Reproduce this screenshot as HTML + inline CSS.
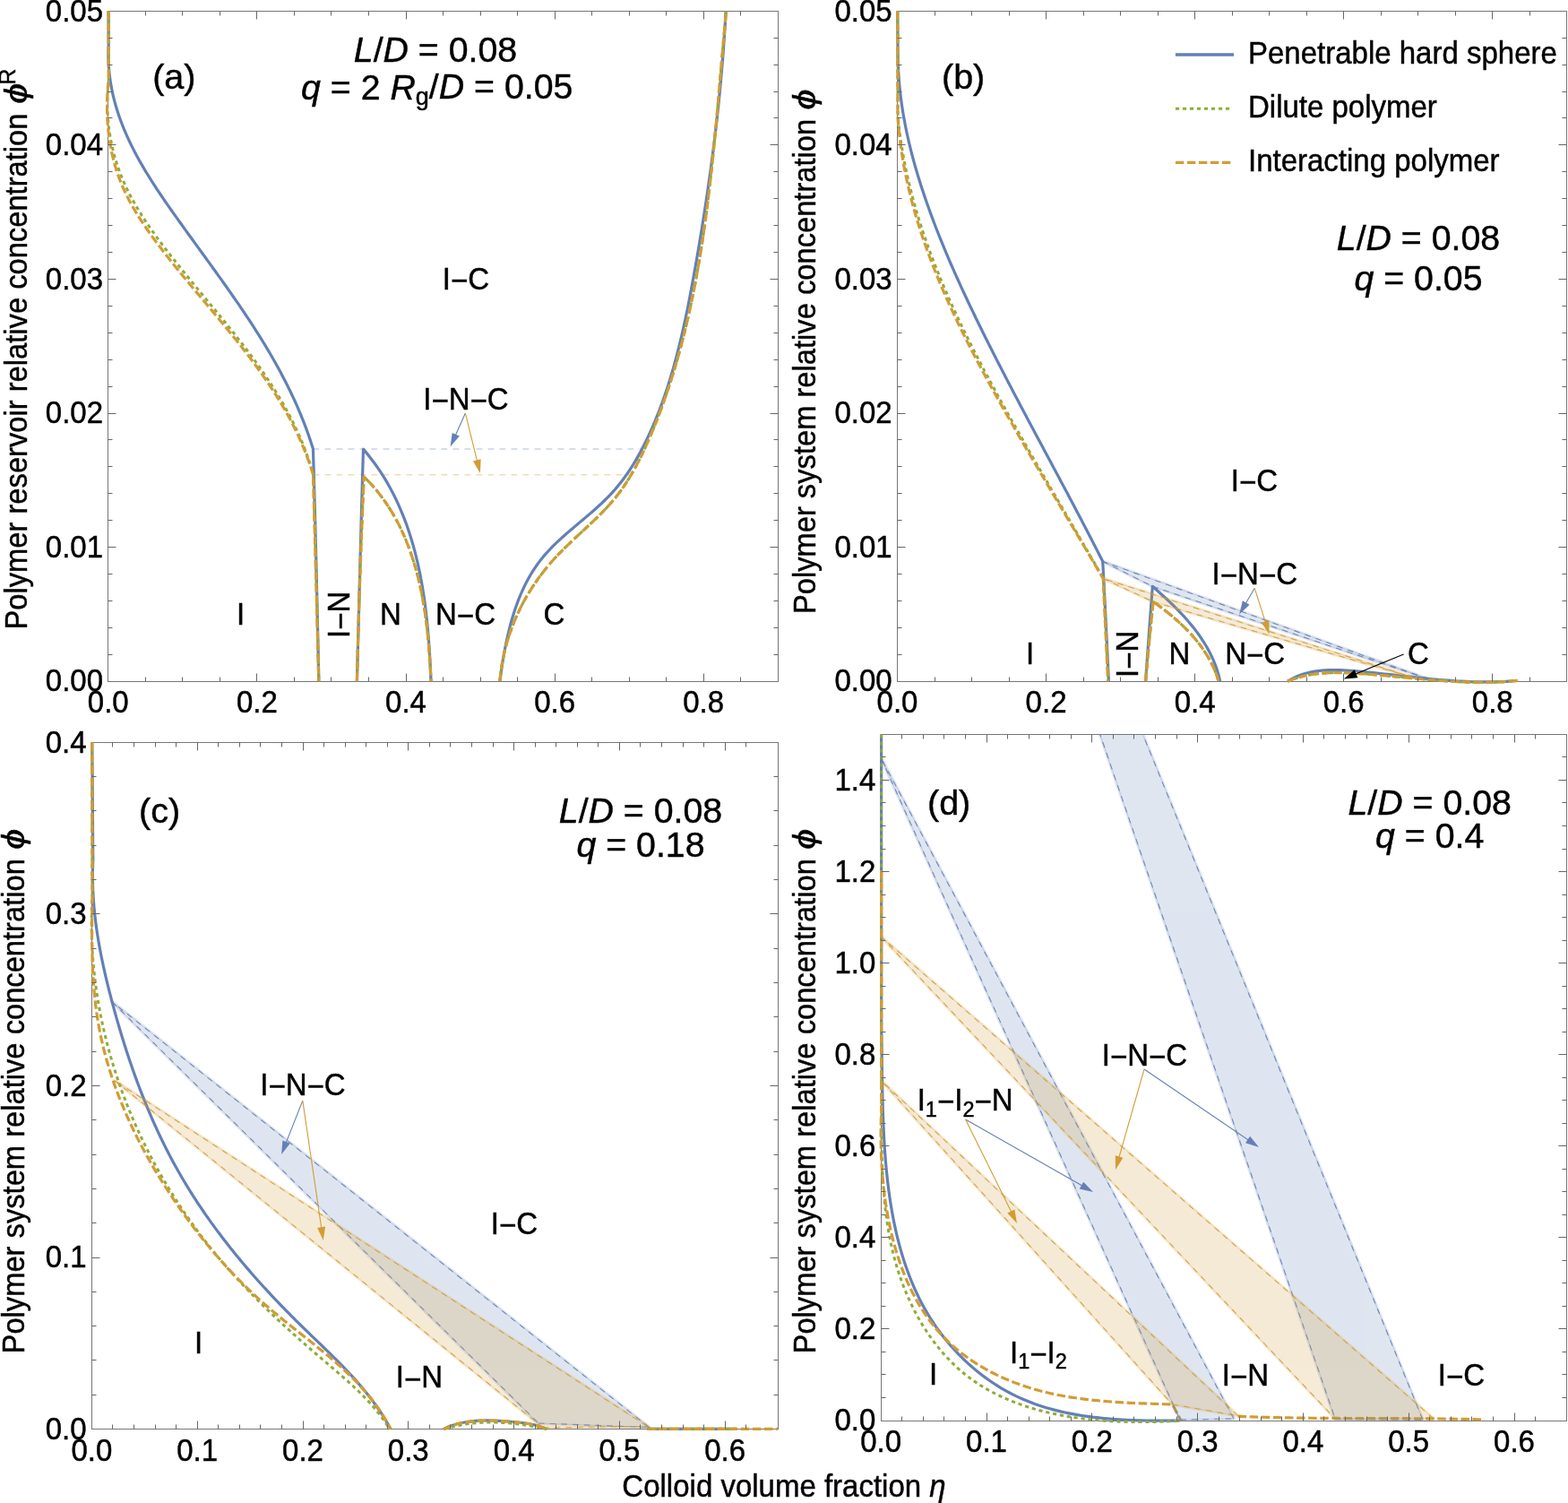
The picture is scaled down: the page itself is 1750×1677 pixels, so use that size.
<!DOCTYPE html><html><head><meta charset="utf-8"><title>Phase diagrams</title>
<style>html,body{margin:0;padding:0;background:#fff;}svg{display:block;}text{font-family:'Liberation Sans', Arial, Helvetica, sans-serif;fill:#000;stroke:#000;stroke-width:0.45px;}</style></head><body>
<svg width="1750" height="1677" viewBox="0 0 1750 1677">
<rect width="1750" height="1677" fill="#fff"/>
<defs>
<clipPath id="ca"><rect x="117.8" y="11.8" width="750.95" height="751.4"/></clipPath>
<clipPath id="fa"><rect x="120.5" y="12.5" width="748" height="748"/></clipPath>
<clipPath id="cb"><rect x="998.5" y="11.8" width="750.77" height="751.4"/></clipPath>
<clipPath id="fb"><rect x="1001.5" y="12.5" width="747" height="748"/></clipPath>
<clipPath id="cc"><rect x="99.4" y="827.8" width="769.2" height="769.8"/></clipPath>
<clipPath id="fc"><rect x="102.5" y="828.5" width="766" height="766"/></clipPath>
<clipPath id="cd"><rect x="980.2" y="818.9" width="769.2" height="769.1"/></clipPath>
<clipPath id="fd"><rect x="983.5" y="819.5" width="765" height="766"/></clipPath>
</defs>
<rect x="120.5" y="12.5" width="748" height="748" fill="none" stroke="#777777" stroke-width="1"/>
<text x="120.8" y="795.2" font-size="33" text-anchor="middle" transform="matrix(1,0,0,1.05,0,-39.76)">0.0</text>
<text x="286.9" y="795.2" font-size="33" text-anchor="middle" transform="matrix(1,0,0,1.05,0,-39.76)">0.2</text>
<text x="453" y="795.2" font-size="33" text-anchor="middle" transform="matrix(1,0,0,1.05,0,-39.76)">0.4</text>
<text x="619.1" y="795.2" font-size="33" text-anchor="middle" transform="matrix(1,0,0,1.05,0,-39.76)">0.6</text>
<text x="785.2" y="795.2" font-size="33" text-anchor="middle" transform="matrix(1,0,0,1.05,0,-39.76)">0.8</text>
<text x="115" y="771.5" font-size="33" text-anchor="end" transform="matrix(1,0,0,1.05,0,-38.58)">0.00</text>
<text x="115" y="621.92" font-size="33" text-anchor="end" transform="matrix(1,0,0,1.05,0,-31.1)">0.01</text>
<text x="115" y="472.34" font-size="33" text-anchor="end" transform="matrix(1,0,0,1.05,0,-23.62)">0.02</text>
<text x="115" y="322.76" font-size="33" text-anchor="end" transform="matrix(1,0,0,1.05,0,-16.14)">0.03</text>
<text x="115" y="173.18" font-size="33" text-anchor="end" transform="matrix(1,0,0,1.05,0,-8.66)">0.04</text>
<text x="115" y="23.6" font-size="33" text-anchor="end" transform="matrix(1,0,0,1.05,0,-1.18)">0.05</text>
<line x1="349.5" y1="501" x2="716" y2="501" stroke="#6380b6" stroke-opacity="0.35" stroke-width="1.6" stroke-dasharray="6.8 6.2"/>
<line x1="349.5" y1="529.8" x2="705" y2="529.8" stroke="#d29c34" stroke-opacity="0.35" stroke-width="1.6" stroke-dasharray="6.8 6.2"/>
<path d="M121.1,12.5 L121.2,50 L121.02,54.25 L120.92,58.46 L120.92,62.65 L121.01,66.8 L121.18,70.92 L121.43,75.02 L121.77,79.09 L122.18,83.12 L122.68,87.13 L123.25,91.12 L123.9,95.07 L124.63,99 L125.42,102.91 L126.29,106.79 L127.23,110.64 L128.23,114.47 L129.3,118.28 L130.44,122.07 L131.64,125.83 L132.9,129.57 L134.22,133.29 L135.59,136.99 L137.03,140.66 L138.51,144.32 L140.05,147.96 L141.65,151.58 L143.29,155.18 L144.98,158.77 L146.71,162.33 L148.5,165.88 L150.32,169.42 L152.18,172.94 L154.09,176.44 L156.03,179.93 L158.01,183.41 L160.03,186.87 L162.08,190.32 L164.16,193.75 L166.27,197.18 L168.41,200.59 L170.57,204 L172.76,207.39 L174.98,210.77 L177.21,214.14 L179.47,217.51 L181.74,220.87 L184.04,224.22 L186.34,227.56 L188.66,230.9 L191,234.23 L193.34,237.55 L195.69,240.87 L198.05,244.18 L200.42,247.5 L202.79,250.8 L205.16,254.11 L207.54,257.41 L209.92,260.71 L212.3,264.01 L214.69,267.3 L217.08,270.59 L219.47,273.89 L221.85,277.18 L224.24,280.47 L226.63,283.76 L229.02,287.05 L231.4,290.34 L233.79,293.63 L236.17,296.92 L238.54,300.22 L240.91,303.51 L243.28,306.81 L245.64,310.11 L248,313.41 L250.35,316.71 L252.69,320.02 L255.03,323.34 L257.35,326.65 L259.67,329.97 L261.98,333.3 L264.28,336.63 L266.57,339.96 L268.84,343.3 L271.11,346.65 L273.36,350 L275.6,353.36 L277.83,356.73 L280.04,360.1 L282.24,363.48 L284.42,366.87 L286.59,370.27 L288.74,373.68 L290.88,377.09 L293,380.51 L295.1,383.95 L297.18,387.39 L299.24,390.85 L301.28,394.31 L303.31,397.78 L305.31,401.27 L307.29,404.77 L309.25,408.28 L311.18,411.8 L313.1,415.33 L314.98,418.88 L316.85,422.44 L318.69,426.01 L320.5,429.6 L322.29,433.2 L324.06,436.81 L325.79,440.44 L327.5,444.09 L329.18,447.75 L330.83,451.43 L332.45,455.12 L334.04,458.83 L335.6,462.55 L337.13,466.3 L338.63,470.06 L340.09,473.83 L341.53,477.63 L342.92,481.44 L344.29,485.28 L345.62,489.13 L346.92,493 L348.18,496.89 L349.4,500.8 L349.53,504.92 L349.66,509.03 L349.78,513.15 L349.91,517.27 L350.03,521.38 L350.16,525.5 L350.28,529.62 L350.4,533.73 L350.52,537.85 L350.64,541.97 L350.75,546.09 L350.87,550.2 L350.98,554.32 L351.1,558.44 L351.21,562.55 L351.32,566.67 L351.44,570.79 L351.55,574.91 L351.65,579.02 L351.76,583.14 L351.87,587.26 L351.98,591.37 L352.08,595.49 L352.19,599.61 L352.29,603.73 L352.4,607.84 L352.5,611.96 L352.6,616.08 L352.7,620.2 L352.8,624.31 L352.9,628.43 L353,632.55 L353.1,636.67 L353.19,640.78 L353.29,644.9 L353.39,649.02 L353.48,653.14 L353.58,657.26 L353.67,661.37 L353.76,665.49 L353.86,669.61 L353.95,673.73 L354.04,677.84 L354.13,681.96 L354.23,686.08 L354.32,690.2 L354.41,694.32 L354.5,698.43 L354.58,702.55 L354.67,706.67 L354.76,710.79 L354.85,714.9 L354.94,719.02 L355.03,723.14 L355.11,727.26 L355.2,731.38 L355.29,735.49 L355.37,739.61 L355.46,743.73 L355.54,747.85 L355.63,751.96 L355.71,756.08 L355.8,760.2" fill="none" stroke="#6380b6" stroke-width="3.2" stroke-linejoin="round" clip-path="url(#ca)"/>
<path d="M398.4,760.2 L398.52,756.09 L398.63,751.98 L398.75,747.87 L398.86,743.76 L398.97,739.64 L399.09,735.53 L399.2,731.42 L399.31,727.31 L399.42,723.2 L399.53,719.09 L399.64,714.98 L399.75,710.87 L399.86,706.76 L399.97,702.64 L400.08,698.53 L400.19,694.42 L400.3,690.31 L400.41,686.2 L400.51,682.09 L400.62,677.98 L400.73,673.87 L400.84,669.75 L400.94,665.64 L401.05,661.53 L401.16,657.42 L401.26,653.31 L401.37,649.2 L401.48,645.09 L401.59,640.98 L401.69,636.86 L401.8,632.75 L401.91,628.64 L402.02,624.53 L402.12,620.42 L402.23,616.31 L402.34,612.2 L402.45,608.09 L402.56,603.97 L402.67,599.86 L402.78,595.75 L402.89,591.64 L403,587.53 L403.11,583.42 L403.22,579.31 L403.34,575.2 L403.45,571.09 L403.56,566.97 L403.68,562.86 L403.79,558.75 L403.91,554.64 L404.03,550.53 L404.15,546.42 L404.26,542.31 L404.38,538.2 L404.5,534.09 L404.62,529.98 L404.75,525.86 L404.87,521.75 L404.99,517.64 L405.12,513.53 L405.24,509.42 L405.37,505.31 L405.5,501.2 L408.22,504.4 L410.88,507.63 L413.47,510.9 L415.99,514.2 L418.45,517.53 L420.85,520.9 L423.18,524.29 L425.45,527.72 L427.66,531.18 L429.8,534.67 L431.89,538.19 L433.92,541.74 L435.89,545.31 L437.81,548.92 L439.67,552.54 L441.47,556.2 L443.22,559.88 L444.92,563.58 L446.56,567.31 L448.15,571.05 L449.7,574.83 L451.19,578.62 L452.63,582.43 L454.03,586.26 L455.37,590.12 L456.67,593.99 L457.93,597.88 L459.14,601.78 L460.31,605.71 L461.43,609.65 L462.52,613.6 L463.56,617.57 L464.56,621.55 L465.52,625.55 L466.45,629.56 L467.33,633.58 L468.18,637.61 L469,641.65 L469.78,645.7 L470.52,649.76 L471.23,653.83 L471.91,657.9 L472.56,661.98 L473.18,666.07 L473.77,670.16 L474.33,674.26 L474.86,678.37 L475.36,682.47 L475.84,686.58 L476.29,690.69 L476.72,694.8 L477.13,698.92 L477.51,703.03 L477.87,707.14 L478.21,711.25 L478.54,715.36 L478.84,719.46 L479.12,723.56 L479.39,727.66 L479.64,731.75 L479.87,735.84 L480.09,739.92 L480.3,743.99 L480.49,748.06 L480.67,752.11 L480.84,756.16 L481,760.2" fill="none" stroke="#6380b6" stroke-width="3.2" stroke-linejoin="round" clip-path="url(#ca)"/>
<path d="M557.9,760.2 L558.42,756.25 L558.96,752.29 L559.52,748.32 L560.11,744.33 L560.73,740.33 L561.38,736.33 L562.05,732.32 L562.76,728.31 L563.51,724.29 L564.29,720.28 L565.11,716.28 L565.97,712.28 L566.87,708.29 L567.81,704.32 L568.81,700.35 L569.85,696.41 L570.94,692.48 L572.08,688.57 L573.27,684.68 L574.53,680.83 L575.84,677 L577.2,673.19 L578.63,669.43 L580.13,665.69 L581.69,662 L583.31,658.34 L585,654.73 L586.77,651.16 L588.61,647.63 L590.52,644.16 L592.51,640.74 L594.58,637.37 L596.72,634.05 L598.95,630.8 L601.27,627.6 L603.67,624.47 L606.16,621.4 L608.72,618.4 L611.37,615.45 L614.09,612.55 L616.87,609.7 L619.71,606.9 L622.61,604.13 L625.55,601.4 L628.54,598.7 L631.56,596.02 L634.61,593.36 L637.69,590.73 L640.78,588.1 L643.89,585.48 L647.01,582.87 L650.12,580.26 L653.23,577.64 L656.33,575.01 L659.42,572.36 L662.48,569.7 L665.52,567.01 L668.52,564.3 L671.48,561.55 L674.4,558.77 L677.27,555.95 L680.07,553.08 L682.82,550.16 L685.5,547.19 L688.11,544.16 L690.65,541.09 L693.13,537.96 L695.54,534.78 L697.89,531.56 L700.18,528.3 L702.42,524.99 L704.6,521.64 L706.72,518.26 L708.79,514.84 L710.81,511.39 L712.78,507.91 L714.71,504.4 L716.59,500.86 L718.43,497.3 L720.23,493.72 L721.98,490.11 L723.7,486.49 L725.39,482.85 L727.03,479.2 L728.65,475.53 L730.23,471.84 L731.77,468.14 L733.28,464.42 L734.77,460.69 L736.21,456.95 L737.63,453.19 L739.02,449.42 L740.38,445.64 L741.71,441.84 L743.01,438.03 L744.28,434.21 L745.53,430.38 L746.75,426.54 L747.94,422.69 L749.11,418.83 L750.25,414.95 L751.37,411.07 L752.47,407.18 L753.54,403.28 L754.6,399.38 L755.63,395.46 L756.64,391.54 L757.63,387.61 L758.6,383.67 L759.55,379.73 L760.48,375.78 L761.4,371.83 L762.3,367.87 L763.18,363.91 L764.05,359.94 L764.9,355.97 L765.74,351.99 L766.56,348.01 L767.38,344.03 L768.17,340.05 L768.96,336.06 L769.74,332.07 L770.5,328.09 L771.26,324.1 L772,320.1 L772.74,316.11 L773.47,312.12 L774.19,308.13 L774.91,304.14 L775.62,300.15 L776.32,296.17 L777.02,292.18 L777.72,288.2 L778.4,284.22 L779.09,280.24 L779.76,276.26 L780.43,272.28 L781.1,268.31 L781.76,264.33 L782.42,260.36 L783.06,256.38 L783.71,252.41 L784.34,248.44 L784.98,244.47 L785.6,240.5 L786.22,236.53 L786.83,232.56 L787.44,228.59 L788.04,224.62 L788.64,220.65 L789.23,216.68 L789.81,212.71 L790.39,208.75 L790.96,204.78 L791.52,200.81 L792.08,196.84 L792.63,192.87 L793.17,188.9 L793.71,184.93 L794.24,180.96 L794.77,176.99 L795.29,173.01 L795.8,169.04 L796.3,165.06 L796.8,161.09 L797.29,157.11 L797.78,153.13 L798.25,149.15 L798.73,145.17 L799.19,141.19 L799.65,137.21 L800.1,133.22 L800.54,129.24 L800.97,125.25 L801.4,121.26 L801.82,117.26 L802.24,113.27 L802.64,109.27 L803.04,105.27 L803.44,101.27 L803.82,97.27 L804.2,93.26 L804.57,89.25 L804.93,85.24 L805.28,81.23 L805.63,77.21 L805.97,73.19 L806.3,69.17 L806.62,65.14 L806.94,61.12 L807.25,57.08 L807.55,53.05 L807.84,49.01 L808.12,44.97 L808.4,40.92 L808.66,36.87 L808.92,32.82 L809.18,28.77 L809.42,24.7 L809.65,20.64 L809.88,16.57 L810.1,12.5" fill="none" stroke="#6380b6" stroke-width="3.2" stroke-linejoin="round" clip-path="url(#ca)"/>
<path d="M121.1,12.5 L121.4,89.4 L120.94,93.6 L120.55,97.79 L120.25,101.97 L120.03,106.13 L119.89,110.29 L119.83,114.43 L119.84,118.56 L119.94,122.67 L120.11,126.77 L120.36,130.85 L120.68,134.92 L121.08,138.97 L121.55,143 L122.1,147.02 L122.72,151.02 L123.42,154.99 L124.19,158.95 L125.03,162.88 L125.94,166.8 L126.92,170.69 L127.97,174.56 L129.09,178.41 L130.28,182.23 L131.54,186.03 L132.87,189.8 L134.27,193.55 L135.73,197.27 L137.26,200.96 L138.85,204.62 L140.51,208.26 L142.23,211.87 L144.01,215.45 L145.85,219.01 L147.75,222.54 L149.7,226.04 L151.7,229.53 L153.75,232.98 L155.84,236.42 L157.98,239.84 L160.16,243.24 L162.38,246.61 L164.63,249.97 L166.92,253.32 L169.24,256.64 L171.59,259.95 L173.96,263.24 L176.37,266.53 L178.79,269.79 L181.23,273.05 L183.69,276.29 L186.16,279.53 L188.65,282.75 L191.15,285.96 L193.67,289.17 L196.19,292.36 L198.73,295.55 L201.27,298.73 L203.83,301.91 L206.39,305.08 L208.96,308.24 L211.54,311.4 L214.12,314.55 L216.71,317.7 L219.3,320.85 L221.89,324 L224.49,327.14 L227.09,330.28 L229.68,333.42 L232.28,336.56 L234.87,339.7 L237.47,342.84 L240.06,345.98 L242.64,349.12 L245.22,352.27 L247.79,355.42 L250.36,358.57 L252.92,361.73 L255.47,364.89 L258.01,368.05 L260.54,371.23 L263.06,374.4 L265.57,377.59 L268.07,380.78 L270.55,383.98 L273.02,387.19 L275.47,390.41 L277.9,393.64 L280.32,396.88 L282.72,400.13 L285.1,403.39 L287.46,406.67 L289.8,409.95 L292.12,413.25 L294.41,416.57 L296.68,419.89 L298.93,423.24 L301.15,426.6 L303.35,429.97 L305.52,433.36 L307.66,436.77 L309.77,440.19 L311.86,443.64 L313.91,447.1 L315.93,450.58 L317.92,454.09 L319.88,457.61 L321.8,461.15 L323.69,464.72 L325.54,468.31 L327.35,471.92 L329.13,475.55 L330.87,479.21 L332.57,482.89 L334.23,486.6 L335.85,490.33 L337.43,494.09 L338.96,497.88 L340.46,501.69 L341.9,505.53 L343.3,509.4 L344.66,513.3 L345.97,517.23 L347.23,521.19 L348.44,525.18 L349.6,529.2 L349.72,533.32 L349.85,537.45 L349.97,541.57 L350.09,545.7 L350.22,549.82 L350.34,553.95 L350.46,558.07 L350.58,562.2 L350.69,566.32 L350.81,570.45 L350.93,574.57 L351.05,578.7 L351.16,582.82 L351.28,586.95 L351.39,591.07 L351.51,595.2 L351.62,599.32 L351.74,603.45 L351.85,607.57 L351.96,611.7 L352.08,615.82 L352.19,619.95 L352.3,624.07 L352.41,628.2 L352.52,632.32 L352.64,636.45 L352.75,640.57 L352.86,644.7 L352.97,648.82 L353.08,652.95 L353.19,657.07 L353.3,661.2 L353.41,665.32 L353.52,669.45 L353.63,673.57 L353.74,677.7 L353.85,681.82 L353.96,685.95 L354.07,690.07 L354.18,694.2 L354.3,698.32 L354.41,702.45 L354.52,706.57 L354.63,710.7 L354.74,714.83 L354.85,718.95 L354.97,723.08 L355.08,727.2 L355.19,731.33 L355.31,735.45 L355.42,739.58 L355.54,743.7 L355.65,747.83 L355.77,751.95 L355.88,756.08 L356,760.2" fill="none" stroke="#8fac3a" stroke-width="3" stroke-dasharray="4.2 3.8" stroke-linejoin="round" clip-path="url(#ca)"/>
<path d="M398.4,760.2 L398.5,756.12 L398.59,752.04 L398.69,747.97 L398.79,743.89 L398.89,739.81 L399,735.73 L399.1,731.65 L399.21,727.58 L399.32,723.5 L399.43,719.42 L399.54,715.34 L399.66,711.27 L399.77,707.19 L399.89,703.11 L400.01,699.03 L400.13,694.95 L400.25,690.88 L400.38,686.8 L400.5,682.72 L400.63,678.65 L400.76,674.57 L400.89,670.49 L401.02,666.41 L401.15,662.34 L401.29,658.26 L401.42,654.18 L401.56,650.11 L401.7,646.03 L401.84,641.95 L401.98,637.88 L402.13,633.8 L402.27,629.72 L402.42,625.65 L402.57,621.57 L402.72,617.49 L402.87,613.42 L403.02,609.34 L403.18,605.26 L403.33,601.19 L403.49,597.11 L403.65,593.04 L403.81,588.96 L403.97,584.88 L404.14,580.81 L404.3,576.73 L404.47,572.66 L404.63,568.58 L404.8,564.5 L404.97,560.43 L405.14,556.35 L405.32,552.28 L405.49,548.2 L405.67,544.13 L405.84,540.05 L406.02,535.98 L406.2,531.9 L409.18,534.88 L412.09,537.9 L414.91,540.98 L417.65,544.1 L420.32,547.26 L422.9,550.47 L425.42,553.73 L427.85,557.02 L430.22,560.36 L432.51,563.74 L434.73,567.16 L436.88,570.62 L438.96,574.11 L440.98,577.64 L442.92,581.2 L444.81,584.8 L446.63,588.43 L448.38,592.1 L450.08,595.79 L451.71,599.51 L453.29,603.26 L454.8,607.04 L456.26,610.85 L457.67,614.68 L459.01,618.53 L460.31,622.41 L461.55,626.31 L462.75,630.23 L463.89,634.17 L464.98,638.13 L466.03,642.1 L467.03,646.1 L467.99,650.1 L468.9,654.13 L469.77,658.16 L470.59,662.21 L471.38,666.27 L472.12,670.34 L472.83,674.42 L473.51,678.5 L474.14,682.6 L474.74,686.69 L475.31,690.8 L475.85,694.9 L476.35,699.01 L476.83,703.12 L477.27,707.23 L477.69,711.34 L478.08,715.45 L478.45,719.55 L478.8,723.66 L479.12,727.75 L479.41,731.84 L479.69,735.92 L479.95,740 L480.19,744.06 L480.42,748.11 L480.63,752.16 L480.82,756.18 L481,760.2" fill="none" stroke="#8fac3a" stroke-width="3" stroke-dasharray="4.2 3.8" stroke-linejoin="round" clip-path="url(#ca)"/>
<path d="M557.9,760.2 L558.27,756.1 L558.71,752.02 L559.22,747.96 L559.81,743.93 L560.47,739.92 L561.21,735.93 L562.01,731.96 L562.89,728.02 L563.84,724.1 L564.86,720.21 L565.95,716.34 L567.1,712.5 L568.32,708.69 L569.61,704.9 L570.97,701.14 L572.39,697.4 L573.88,693.7 L575.43,690.02 L577.04,686.38 L578.72,682.76 L580.45,679.17 L582.25,675.62 L584.11,672.09 L586.03,668.6 L588.01,665.14 L590.05,661.71 L592.15,658.32 L594.3,654.96 L596.51,651.63 L598.77,648.34 L601.09,645.08 L603.46,641.86 L605.89,638.67 L608.37,635.52 L610.9,632.41 L613.49,629.34 L616.12,626.3 L618.81,623.3 L621.54,620.34 L624.32,617.42 L627.15,614.54 L630.01,611.68 L632.9,608.85 L635.82,606.05 L638.77,603.26 L641.73,600.49 L644.7,597.73 L647.68,594.98 L650.66,592.22 L653.64,589.47 L656.6,586.71 L659.56,583.95 L662.49,581.17 L665.4,578.37 L668.28,575.55 L671.13,572.71 L673.93,569.83 L676.69,566.93 L679.4,563.98 L682.06,561 L684.65,557.97 L687.18,554.89 L689.64,551.76 L692.03,548.58 L694.36,545.35 L696.62,542.08 L698.83,538.76 L700.97,535.4 L703.07,532.01 L705.1,528.58 L707.09,525.11 L709.03,521.62 L710.93,518.09 L712.78,514.54 L714.59,510.96 L716.36,507.36 L718.09,503.73 L719.79,500.09 L721.46,496.44 L723.09,492.77 L724.7,489.09 L726.29,485.39 L727.85,481.69 L729.38,477.99 L730.9,474.27 L732.39,470.55 L733.86,466.82 L735.3,463.08 L736.73,459.33 L738.13,455.58 L739.51,451.82 L740.87,448.05 L742.21,444.27 L743.52,440.49 L744.82,436.7 L746.09,432.91 L747.34,429.1 L748.58,425.29 L749.79,421.48 L750.99,417.66 L752.16,413.83 L753.32,409.99 L754.45,406.15 L755.57,402.31 L756.67,398.45 L757.75,394.6 L758.81,390.73 L759.85,386.86 L760.88,382.99 L761.89,379.11 L762.88,375.22 L763.85,371.33 L764.81,367.43 L765.75,363.53 L766.68,359.62 L767.59,355.71 L768.48,351.8 L769.36,347.88 L770.22,343.95 L771.07,340.02 L771.9,336.09 L772.71,332.15 L773.52,328.21 L774.3,324.27 L775.08,320.32 L775.84,316.36 L776.59,312.41 L777.32,308.45 L778.04,304.48 L778.75,300.51 L779.44,296.54 L780.12,292.57 L780.79,288.59 L781.45,284.61 L782.1,280.63 L782.73,276.64 L783.35,272.66 L783.96,268.67 L784.57,264.67 L785.16,260.68 L785.74,256.68 L786.31,252.68 L786.87,248.68 L787.42,244.67 L787.96,240.67 L788.49,236.66 L789.01,232.65 L789.53,228.64 L790.03,224.62 L790.53,220.61 L791.02,216.6 L791.5,212.58 L791.97,208.56 L792.43,204.54 L792.89,200.52 L793.34,196.5 L793.79,192.48 L794.23,188.46 L794.66,184.44 L795.08,180.42 L795.5,176.4 L795.92,172.37 L796.33,168.35 L796.73,164.33 L797.13,160.31 L797.52,156.28 L797.91,152.26 L798.3,148.24 L798.68,144.22 L799.06,140.2 L799.43,136.18 L799.8,132.16 L800.17,128.15 L800.53,124.13 L800.9,120.11 L801.26,116.1 L801.61,112.09 L801.97,108.07 L802.32,104.07 L802.67,100.06 L803.02,96.05 L803.37,92.05 L803.72,88.04 L804.07,84.04 L804.42,80.04 L804.77,76.05 L805.12,72.05 L805.46,68.06 L805.81,64.07 L806.16,60.09 L806.51,56.11 L806.86,52.13 L807.22,48.15 L807.57,44.17 L807.93,40.2 L808.29,36.23 L808.65,32.27 L809.01,28.31 L809.38,24.35 L809.75,20.4 L810.12,16.45 L810.5,12.5" fill="none" stroke="#8fac3a" stroke-width="3" stroke-dasharray="4.2 3.8" stroke-linejoin="round" clip-path="url(#ca)"/>
<path d="M121.1,12.5 L121.2,89.4 L120.77,93.5 L120.41,97.61 L120.11,101.71 L119.86,105.82 L119.68,109.92 L119.57,114.02 L119.51,118.11 L119.52,122.2 L119.6,126.28 L119.74,130.36 L119.94,134.42 L120.21,138.48 L120.55,142.52 L120.95,146.55 L121.42,150.57 L121.96,154.57 L122.57,158.56 L123.24,162.52 L123.99,166.47 L124.8,170.4 L125.68,174.31 L126.64,178.19 L127.66,182.05 L128.76,185.89 L129.93,189.7 L131.18,193.48 L132.49,197.24 L133.88,200.96 L135.34,204.66 L136.88,208.32 L138.49,211.95 L140.17,215.55 L141.92,219.12 L143.73,222.66 L145.61,226.18 L147.54,229.67 L149.52,233.13 L151.56,236.57 L153.65,239.98 L155.79,243.37 L157.97,246.74 L160.19,250.09 L162.44,253.42 L164.74,256.73 L167.06,260.03 L169.42,263.31 L171.8,266.57 L174.21,269.82 L176.64,273.05 L179.08,276.28 L181.54,279.49 L184.02,282.69 L186.51,285.88 L189.02,289.06 L191.54,292.23 L194.07,295.39 L196.61,298.54 L199.16,301.69 L201.71,304.83 L204.28,307.96 L206.86,311.09 L209.44,314.21 L212.03,317.33 L214.62,320.44 L217.22,323.55 L219.82,326.65 L222.42,329.76 L225.02,332.86 L227.63,335.96 L230.23,339.06 L232.83,342.16 L235.44,345.26 L238.03,348.37 L240.63,351.47 L243.22,354.57 L245.81,357.68 L248.38,360.79 L250.96,363.91 L253.52,367.03 L256.08,370.15 L258.62,373.28 L261.16,376.42 L263.68,379.56 L266.19,382.71 L268.69,385.87 L271.18,389.04 L273.65,392.22 L276.1,395.4 L278.54,398.6 L280.96,401.8 L283.36,405.02 L285.75,408.25 L288.11,411.49 L290.46,414.75 L292.78,418.02 L295.08,421.3 L297.35,424.6 L299.6,427.91 L301.83,431.24 L304.03,434.58 L306.21,437.95 L308.35,441.33 L310.47,444.72 L312.56,448.14 L314.62,451.58 L316.65,455.03 L318.65,458.51 L320.61,462.01 L322.54,465.52 L324.44,469.07 L326.3,472.63 L328.12,476.22 L329.91,479.83 L331.66,483.46 L333.37,487.12 L335.04,490.81 L336.67,494.52 L338.26,498.26 L339.81,502.03 L341.32,505.82 L342.78,509.64 L344.2,513.49 L345.57,517.37 L346.89,521.29 L348.17,525.23 L349.4,529.2 L349.52,533.32 L349.65,537.45 L349.77,541.57 L349.89,545.7 L350.02,549.82 L350.14,553.95 L350.26,558.07 L350.38,562.2 L350.49,566.32 L350.61,570.45 L350.73,574.57 L350.85,578.7 L350.96,582.82 L351.08,586.95 L351.19,591.07 L351.31,595.2 L351.42,599.32 L351.54,603.45 L351.65,607.57 L351.76,611.7 L351.88,615.82 L351.99,619.95 L352.1,624.07 L352.21,628.2 L352.32,632.32 L352.44,636.45 L352.55,640.57 L352.66,644.7 L352.77,648.82 L352.88,652.95 L352.99,657.07 L353.1,661.2 L353.21,665.32 L353.32,669.45 L353.43,673.57 L353.54,677.7 L353.65,681.82 L353.76,685.95 L353.87,690.07 L353.98,694.2 L354.1,698.32 L354.21,702.45 L354.32,706.57 L354.43,710.7 L354.54,714.83 L354.65,718.95 L354.77,723.08 L354.88,727.2 L354.99,731.33 L355.11,735.45 L355.22,739.58 L355.34,743.7 L355.45,747.83 L355.57,751.95 L355.68,756.08 L355.8,760.2" fill="none" stroke="#d29c34" stroke-width="3.2" stroke-dasharray="9.5 3.6" stroke-linejoin="round" clip-path="url(#ca)"/>
<path d="M398.4,760.2 L398.5,756.12 L398.59,752.04 L398.69,747.97 L398.79,743.89 L398.89,739.81 L399,735.73 L399.1,731.65 L399.21,727.58 L399.32,723.5 L399.43,719.42 L399.54,715.34 L399.66,711.27 L399.77,707.19 L399.89,703.11 L400.01,699.03 L400.13,694.95 L400.25,690.88 L400.38,686.8 L400.5,682.72 L400.63,678.65 L400.76,674.57 L400.89,670.49 L401.02,666.41 L401.15,662.34 L401.29,658.26 L401.42,654.18 L401.56,650.11 L401.7,646.03 L401.84,641.95 L401.98,637.88 L402.13,633.8 L402.27,629.72 L402.42,625.65 L402.57,621.57 L402.72,617.49 L402.87,613.42 L403.02,609.34 L403.18,605.26 L403.33,601.19 L403.49,597.11 L403.65,593.04 L403.81,588.96 L403.97,584.88 L404.14,580.81 L404.3,576.73 L404.47,572.66 L404.63,568.58 L404.8,564.5 L404.97,560.43 L405.14,556.35 L405.32,552.28 L405.49,548.2 L405.67,544.13 L405.84,540.05 L406.02,535.98 L406.2,531.9 L409.18,534.88 L412.09,537.9 L414.91,540.98 L417.65,544.1 L420.32,547.26 L422.9,550.47 L425.42,553.73 L427.85,557.02 L430.22,560.36 L432.51,563.74 L434.73,567.16 L436.88,570.62 L438.96,574.11 L440.98,577.64 L442.92,581.2 L444.81,584.8 L446.63,588.43 L448.38,592.1 L450.08,595.79 L451.71,599.51 L453.29,603.26 L454.8,607.04 L456.26,610.85 L457.67,614.68 L459.01,618.53 L460.31,622.41 L461.55,626.31 L462.75,630.23 L463.89,634.17 L464.98,638.13 L466.03,642.1 L467.03,646.1 L467.99,650.1 L468.9,654.13 L469.77,658.16 L470.59,662.21 L471.38,666.27 L472.12,670.34 L472.83,674.42 L473.51,678.5 L474.14,682.6 L474.74,686.69 L475.31,690.8 L475.85,694.9 L476.35,699.01 L476.83,703.12 L477.27,707.23 L477.69,711.34 L478.08,715.45 L478.45,719.55 L478.8,723.66 L479.12,727.75 L479.41,731.84 L479.69,735.92 L479.95,740 L480.19,744.06 L480.42,748.11 L480.63,752.16 L480.82,756.18 L481,760.2" fill="none" stroke="#d29c34" stroke-width="3.2" stroke-dasharray="9.5 3.6" stroke-linejoin="round" clip-path="url(#ca)"/>
<path d="M557.9,760.2 L558.27,756.1 L558.71,752.02 L559.22,747.96 L559.81,743.93 L560.47,739.92 L561.21,735.93 L562.01,731.96 L562.89,728.02 L563.84,724.1 L564.86,720.21 L565.95,716.34 L567.1,712.5 L568.32,708.69 L569.61,704.9 L570.97,701.14 L572.39,697.4 L573.88,693.7 L575.43,690.02 L577.04,686.38 L578.72,682.76 L580.45,679.17 L582.25,675.62 L584.11,672.09 L586.03,668.6 L588.01,665.14 L590.05,661.71 L592.15,658.32 L594.3,654.96 L596.51,651.63 L598.77,648.34 L601.09,645.08 L603.46,641.86 L605.89,638.67 L608.37,635.52 L610.9,632.41 L613.49,629.34 L616.12,626.3 L618.81,623.3 L621.54,620.34 L624.32,617.42 L627.15,614.54 L630.01,611.68 L632.9,608.85 L635.82,606.05 L638.77,603.26 L641.73,600.49 L644.7,597.73 L647.68,594.98 L650.66,592.22 L653.64,589.47 L656.6,586.71 L659.56,583.95 L662.49,581.17 L665.4,578.37 L668.28,575.55 L671.13,572.71 L673.93,569.83 L676.69,566.93 L679.4,563.98 L682.06,561 L684.65,557.97 L687.18,554.89 L689.64,551.76 L692.03,548.58 L694.36,545.35 L696.62,542.08 L698.83,538.76 L700.97,535.4 L703.07,532.01 L705.1,528.58 L707.09,525.11 L709.03,521.62 L710.93,518.09 L712.78,514.54 L714.59,510.96 L716.36,507.36 L718.09,503.73 L719.79,500.09 L721.46,496.44 L723.09,492.77 L724.7,489.09 L726.29,485.39 L727.85,481.69 L729.38,477.99 L730.9,474.27 L732.39,470.55 L733.86,466.82 L735.3,463.08 L736.73,459.33 L738.13,455.58 L739.51,451.82 L740.87,448.05 L742.21,444.27 L743.52,440.49 L744.82,436.7 L746.09,432.91 L747.34,429.1 L748.58,425.29 L749.79,421.48 L750.99,417.66 L752.16,413.83 L753.32,409.99 L754.45,406.15 L755.57,402.31 L756.67,398.45 L757.75,394.6 L758.81,390.73 L759.85,386.86 L760.88,382.99 L761.89,379.11 L762.88,375.22 L763.85,371.33 L764.81,367.43 L765.75,363.53 L766.68,359.62 L767.59,355.71 L768.48,351.8 L769.36,347.88 L770.22,343.95 L771.07,340.02 L771.9,336.09 L772.71,332.15 L773.52,328.21 L774.3,324.27 L775.08,320.32 L775.84,316.36 L776.59,312.41 L777.32,308.45 L778.04,304.48 L778.75,300.51 L779.44,296.54 L780.12,292.57 L780.79,288.59 L781.45,284.61 L782.1,280.63 L782.73,276.64 L783.35,272.66 L783.96,268.67 L784.57,264.67 L785.16,260.68 L785.74,256.68 L786.31,252.68 L786.87,248.68 L787.42,244.67 L787.96,240.67 L788.49,236.66 L789.01,232.65 L789.53,228.64 L790.03,224.62 L790.53,220.61 L791.02,216.6 L791.5,212.58 L791.97,208.56 L792.43,204.54 L792.89,200.52 L793.34,196.5 L793.79,192.48 L794.23,188.46 L794.66,184.44 L795.08,180.42 L795.5,176.4 L795.92,172.37 L796.33,168.35 L796.73,164.33 L797.13,160.31 L797.52,156.28 L797.91,152.26 L798.3,148.24 L798.68,144.22 L799.06,140.2 L799.43,136.18 L799.8,132.16 L800.17,128.15 L800.53,124.13 L800.9,120.11 L801.26,116.1 L801.61,112.09 L801.97,108.07 L802.32,104.07 L802.67,100.06 L803.02,96.05 L803.37,92.05 L803.72,88.04 L804.07,84.04 L804.42,80.04 L804.77,76.05 L805.12,72.05 L805.46,68.06 L805.81,64.07 L806.16,60.09 L806.51,56.11 L806.86,52.13 L807.22,48.15 L807.57,44.17 L807.93,40.2 L808.29,36.23 L808.65,32.27 L809.01,28.31 L809.38,24.35 L809.75,20.4 L810.12,16.45 L810.5,12.5" fill="none" stroke="#d29c34" stroke-width="3.2" stroke-dasharray="9.5 3.6" stroke-linejoin="round" clip-path="url(#ca)"/>
<line x1="519.4" y1="461.1" x2="507.94" y2="486.55" stroke="#6380b6" stroke-width="1.1"/>
<polygon points="502.6,498.4 504.66,482.88 512.86,486.57" fill="#6380b6"/>
<line x1="519.4" y1="461.1" x2="532.79" y2="515.38" stroke="#d29c34" stroke-width="1.1"/>
<polygon points="535.9,528 527.94,514.51 536.68,512.36" fill="#d29c34"/>
<text x="170.2" y="99" font-size="39.5" text-anchor="start" transform="matrix(1,0,0,1.0,0,-0)">(a)</text>
<text x="486" y="69.3" font-size="39.3" text-anchor="middle" transform="matrix(1,0,0,1.0,0,-0)"><tspan font-style="italic">L</tspan>/<tspan font-style="italic">D</tspan> = 0.08</text>
<text x="336" y="110.5" font-size="39.3" text-anchor="start" transform="matrix(1,0,0,1.0,0,-0)"><tspan font-style="italic">q</tspan> = 2 <tspan font-style="italic">R</tspan><tspan font-size="27" dy="6">g</tspan><tspan dy="-6.2">/</tspan><tspan font-style="italic">D</tspan> = 0.05</text>
<text x="520" y="323" font-size="33" text-anchor="middle" transform="matrix(1,0,0,1.05,0,-16.15)">I<tspan baseline-shift="-1.7">&#x2212;</tspan>C</text>
<text x="520" y="457.2" font-size="33" text-anchor="middle" transform="matrix(1,0,0,1.05,0,-22.86)">I<tspan baseline-shift="-1.7">&#x2212;</tspan>N<tspan baseline-shift="-1.7">&#x2212;</tspan>C</text>
<text x="264" y="697" font-size="33" text-anchor="start" transform="matrix(1,0,0,1.05,0,-34.85)">I</text>
<text x="424" y="697.4" font-size="33" text-anchor="start" transform="matrix(1,0,0,1.05,0,-34.87)">N</text>
<text x="519.5" y="697.4" font-size="33" text-anchor="middle" transform="matrix(1,0,0,1.05,0,-34.87)">N<tspan baseline-shift="-1.7">&#x2212;</tspan>C</text>
<text x="606.4" y="697.4" font-size="33" text-anchor="start" transform="matrix(1,0,0,1.05,0,-34.87)">C</text>
<text transform="translate(389.8,712) rotate(-90) scale(1,1.05)" font-size="33">I<tspan baseline-shift="-1.7">&#x2212;</tspan>N</text>
<text transform="translate(30.1,702.5) rotate(-90) scale(1,1.05)" font-size="32.7">Polymer reservoir relative concentration</text>
<text transform="translate(30.1,115.7) rotate(-90) scale(1.26,1.05)" font-size="32.7" font-style="italic">&#x3D5;</text>
<text transform="translate(17.2,94.6) rotate(-90) scale(1,1.05)" font-size="24.7">R</text>
<rect x="1001.5" y="12.5" width="747" height="748" fill="none" stroke="#777777" stroke-width="1"/>
<text x="1001.5" y="795.2" font-size="33" text-anchor="middle" transform="matrix(1,0,0,1.05,0,-39.76)">0.0</text>
<text x="1167.56" y="795.2" font-size="33" text-anchor="middle" transform="matrix(1,0,0,1.05,0,-39.76)">0.2</text>
<text x="1333.62" y="795.2" font-size="33" text-anchor="middle" transform="matrix(1,0,0,1.05,0,-39.76)">0.4</text>
<text x="1499.68" y="795.2" font-size="33" text-anchor="middle" transform="matrix(1,0,0,1.05,0,-39.76)">0.6</text>
<text x="1665.74" y="795.2" font-size="33" text-anchor="middle" transform="matrix(1,0,0,1.05,0,-39.76)">0.8</text>
<text x="995.7" y="771.5" font-size="33" text-anchor="end" transform="matrix(1,0,0,1.05,0,-38.58)">0.00</text>
<text x="995.7" y="621.92" font-size="33" text-anchor="end" transform="matrix(1,0,0,1.05,0,-31.1)">0.01</text>
<text x="995.7" y="472.34" font-size="33" text-anchor="end" transform="matrix(1,0,0,1.05,0,-23.62)">0.02</text>
<text x="995.7" y="322.76" font-size="33" text-anchor="end" transform="matrix(1,0,0,1.05,0,-16.14)">0.03</text>
<text x="995.7" y="173.18" font-size="33" text-anchor="end" transform="matrix(1,0,0,1.05,0,-8.66)">0.04</text>
<text x="995.7" y="23.6" font-size="33" text-anchor="end" transform="matrix(1,0,0,1.05,0,-1.18)">0.05</text>
<path d="M1001.7,12.5 L1002.1,60 L1002.14,64.07 L1002.22,68.12 L1002.35,72.18 L1002.52,76.22 L1002.73,80.26 L1002.97,84.29 L1003.26,88.31 L1003.59,92.33 L1003.96,96.33 L1004.37,100.34 L1004.81,104.33 L1005.29,108.32 L1005.81,112.3 L1006.36,116.27 L1006.95,120.24 L1007.57,124.2 L1008.23,128.16 L1008.92,132.1 L1009.64,136.05 L1010.4,139.98 L1011.18,143.91 L1012,147.83 L1012.85,151.75 L1013.73,155.66 L1014.63,159.56 L1015.57,163.45 L1016.53,167.35 L1017.52,171.23 L1018.54,175.11 L1019.59,178.98 L1020.65,182.85 L1021.75,186.71 L1022.87,190.56 L1024.01,194.41 L1025.17,198.25 L1026.36,202.09 L1027.57,205.92 L1028.8,209.74 L1030.05,213.56 L1031.33,217.38 L1032.62,221.18 L1033.93,224.99 L1035.26,228.78 L1036.61,232.58 L1037.97,236.36 L1039.36,240.14 L1040.76,243.92 L1042.18,247.69 L1043.61,251.45 L1045.07,255.21 L1046.54,258.97 L1048.02,262.72 L1049.52,266.46 L1051.04,270.2 L1052.57,273.94 L1054.11,277.67 L1055.67,281.39 L1057.24,285.11 L1058.82,288.83 L1060.42,292.54 L1062.03,296.24 L1063.65,299.95 L1065.29,303.64 L1066.93,307.33 L1068.59,311.02 L1070.26,314.7 L1071.93,318.38 L1073.62,322.06 L1075.32,325.73 L1077.03,329.39 L1078.74,333.05 L1080.47,336.71 L1082.2,340.36 L1083.94,344.01 L1085.69,347.66 L1087.44,351.3 L1089.2,354.93 L1090.97,358.56 L1092.75,362.19 L1094.53,365.82 L1096.31,369.44 L1098.1,373.06 L1099.9,376.67 L1101.7,380.28 L1103.51,383.89 L1105.33,387.49 L1107.14,391.09 L1108.97,394.69 L1110.79,398.29 L1112.63,401.88 L1114.46,405.47 L1116.3,409.05 L1118.15,412.64 L1120,416.22 L1121.85,419.8 L1123.7,423.37 L1125.56,426.95 L1127.43,430.52 L1129.29,434.09 L1131.16,437.66 L1133.03,441.22 L1134.91,444.79 L1136.79,448.35 L1138.66,451.91 L1140.55,455.47 L1142.43,459.03 L1144.32,462.59 L1146.21,466.14 L1148.1,469.7 L1149.99,473.25 L1151.88,476.8 L1153.77,480.35 L1155.67,483.91 L1157.56,487.46 L1159.46,491.01 L1161.36,494.56 L1163.26,498.1 L1165.16,501.65 L1167.05,505.2 L1168.95,508.75 L1170.85,512.3 L1172.75,515.85 L1174.65,519.4 L1176.55,522.95 L1178.44,526.49 L1180.34,530.04 L1182.24,533.59 L1184.13,537.15 L1186.02,540.7 L1187.91,544.25 L1189.8,547.8 L1191.69,551.36 L1193.58,554.91 L1195.46,558.47 L1197.35,562.03 L1199.23,565.59 L1201.1,569.15 L1202.98,572.71 L1204.85,576.28 L1206.72,579.84 L1208.59,583.41 L1210.45,586.98 L1212.31,590.55 L1214.17,594.12 L1216.02,597.7 L1217.87,601.28 L1219.72,604.86 L1221.56,608.44 L1223.4,612.03 L1225.23,615.62 L1227.06,619.21 L1228.88,622.8 L1230.7,626.4 L1230.93,630.58 L1231.16,634.76 L1231.39,638.94 L1231.61,643.12 L1231.83,647.3 L1232.05,651.48 L1232.27,655.66 L1232.49,659.84 L1232.71,664.02 L1232.92,668.21 L1233.14,672.39 L1233.35,676.57 L1233.56,680.75 L1233.77,684.93 L1233.98,689.11 L1234.18,693.29 L1234.39,697.47 L1234.59,701.66 L1234.8,705.84 L1235,710.02 L1235.2,714.2 L1235.41,718.38 L1235.61,722.56 L1235.81,726.75 L1236.01,730.93 L1236.21,735.11 L1236.41,739.29 L1236.61,743.47 L1236.8,747.65 L1237,751.84 L1237.2,756.02 L1237.4,760.2" fill="none" stroke="#6380b6" stroke-width="3.2" stroke-linejoin="round" clip-path="url(#cb)"/>
<path d="M1278.6,760.2 C1279.25,751 1281.22,722.65 1282.5,705 C1283.78,687.35 1285.67,662.75 1286.3,654.3 L1289.38,656.99 L1292.46,659.7 L1295.53,662.45 L1298.6,665.23 L1301.64,668.03 L1304.67,670.88 L1307.67,673.75 L1310.64,676.66 L1313.58,679.61 L1316.48,682.59 L1319.34,685.62 L1322.15,688.68 L1324.92,691.79 L1327.62,694.93 L1330.27,698.13 L1332.85,701.36 L1335.36,704.64 L1337.8,707.97 L1340.16,711.35 L1342.43,714.78 L1344.62,718.26 L1346.72,721.79 L1348.72,725.37 L1350.63,729.01 L1352.43,732.7 L1354.11,736.45 L1355.69,740.26 L1357.15,744.12 L1358.48,748.05 L1359.69,752.04 L1360.76,756.09 L1361.7,760.2" fill="none" stroke="#6380b6" stroke-width="3.2" stroke-linejoin="round" clip-path="url(#cb)"/>
<path d="M1437.1,760.2 L1440.7,758.09 L1444.35,756.21 L1448.06,754.55 L1451.81,753.09 L1455.61,751.83 L1459.45,750.76 L1463.33,749.86 L1467.25,749.12 L1471.2,748.54 L1475.19,748.1 L1479.2,747.78 L1483.24,747.59 L1487.3,747.5 L1491.38,747.52 L1495.48,747.62 L1499.59,747.79 L1503.71,748.03 L1507.84,748.32 L1511.98,748.66 L1516.12,749.02 L1520.27,749.41 L1524.41,749.81 L1528.55,750.23 L1532.68,750.66 L1536.82,751.09 L1540.95,751.54 L1545.09,751.99 L1549.22,752.44 L1553.35,752.9 L1557.49,753.37 L1561.62,753.83 L1565.75,754.29 L1569.87,754.75 L1574,755.2 L1578.13,755.65 L1582.25,756.09 L1586.38,756.52 L1590.5,756.94 L1594.62,757.35 L1598.75,757.75 L1602.87,758.13 L1606.99,758.49 L1611.11,758.83 L1615.23,759.16 L1619.35,759.46 L1623.46,759.74 L1627.58,759.99 L1631.7,760.22 L1635.81,760.42 L1639.93,760.59 L1644.05,760.73 L1648.16,760.84 L1652.28,760.91 L1656.39,760.94 L1660.5,760.94 L1664.62,760.9 L1668.73,760.82 L1672.84,760.7 L1676.95,760.53 L1681.07,760.32 L1685.18,760.06 L1689.29,759.76 L1693.4,759.4" fill="none" stroke="#6380b6" stroke-width="3.2" stroke-linejoin="round" clip-path="url(#cb)"/>
<path d="M1001.7,12.5 L1002.1,130 L1002.5,134.05 L1002.92,138.09 L1003.39,142.12 L1003.88,146.15 L1004.4,150.17 L1004.95,154.17 L1005.54,158.17 L1006.15,162.16 L1006.8,166.15 L1007.47,170.12 L1008.17,174.09 L1008.9,178.05 L1009.66,182 L1010.45,185.94 L1011.26,189.88 L1012.11,193.81 L1012.98,197.73 L1013.88,201.64 L1014.8,205.54 L1015.75,209.44 L1016.72,213.33 L1017.73,217.21 L1018.75,221.09 L1019.8,224.96 L1020.88,228.82 L1021.98,232.67 L1023.1,236.52 L1024.25,240.36 L1025.42,244.19 L1026.62,248.02 L1027.83,251.84 L1029.07,255.65 L1030.34,259.46 L1031.62,263.26 L1032.92,267.05 L1034.25,270.84 L1035.59,274.62 L1036.96,278.39 L1038.35,282.16 L1039.76,285.92 L1041.18,289.68 L1042.63,293.43 L1044.09,297.17 L1045.57,300.91 L1047.07,304.64 L1048.59,308.36 L1050.13,312.08 L1051.68,315.8 L1053.25,319.51 L1054.84,323.21 L1056.44,326.91 L1058.06,330.6 L1059.7,334.29 L1061.35,337.97 L1063.01,341.64 L1064.69,345.31 L1066.39,348.98 L1068.09,352.64 L1069.82,356.3 L1071.55,359.95 L1073.3,363.59 L1075.06,367.23 L1076.83,370.87 L1078.62,374.5 L1080.42,378.13 L1082.23,381.75 L1084.05,385.37 L1085.88,388.98 L1087.72,392.59 L1089.57,396.19 L1091.43,399.79 L1093.3,403.39 L1095.18,406.98 L1097.07,410.57 L1098.97,414.15 L1100.87,417.73 L1102.79,421.31 L1104.71,424.88 L1106.64,428.45 L1108.57,432.01 L1110.51,435.57 L1112.46,439.13 L1114.41,442.69 L1116.37,446.24 L1118.34,449.78 L1120.31,453.33 L1122.29,456.87 L1124.27,460.4 L1126.25,463.94 L1128.24,467.47 L1130.23,471 L1132.22,474.52 L1134.22,478.05 L1136.22,481.57 L1138.22,485.08 L1140.23,488.6 L1142.24,492.11 L1144.25,495.62 L1146.27,499.13 L1148.28,502.63 L1150.3,506.13 L1152.33,509.63 L1154.35,513.13 L1156.37,516.63 L1158.4,520.13 L1160.43,523.62 L1162.46,527.11 L1164.49,530.6 L1166.52,534.09 L1168.56,537.58 L1170.59,541.07 L1172.63,544.55 L1174.66,548.03 L1176.7,551.52 L1178.74,555 L1180.78,558.48 L1182.81,561.96 L1184.85,565.44 L1186.89,568.92 L1188.92,572.4 L1190.96,575.88 L1193,579.36 L1195.03,582.84 L1197.07,586.31 L1199.1,589.79 L1201.13,593.27 L1203.16,596.75 L1205.19,600.23 L1207.22,603.7 L1209.25,607.18 L1211.27,610.66 L1213.3,614.14 L1215.32,617.62 L1217.34,621.1 L1219.35,624.59 L1221.37,628.07 L1223.38,631.55 L1225.39,635.04 L1227.4,638.52 L1229.4,642.01 L1231.4,645.5 C1231.67,651.25 1232.1,660.88 1233,680 C1233.9,699.12 1236.17,746.83 1236.8,760.2" fill="none" stroke="#8fac3a" stroke-width="3" stroke-dasharray="4.2 3.8" stroke-linejoin="round" clip-path="url(#cb)"/>
<path d="M1278.6,760.2 C1279.33,752.17 1281.58,726.78 1283,712 C1284.42,697.22 1286.42,678.25 1287.1,671.5 L1290.45,673.86 L1293.8,676.28 L1297.13,678.76 L1300.44,681.29 L1303.72,683.88 L1306.98,686.53 L1310.19,689.24 L1313.37,692 L1316.5,694.83 L1319.57,697.71 L1322.59,700.65 L1325.55,703.66 L1328.44,706.72 L1331.25,709.84 L1333.99,713.03 L1336.64,716.28 L1339.2,719.59 L1341.67,722.96 L1344.04,726.4 L1346.31,729.89 L1348.46,733.46 L1350.5,737.08 L1352.42,740.77 L1354.21,744.53 L1355.87,748.35 L1357.39,752.23 L1358.77,756.18 L1360,760.2" fill="none" stroke="#8fac3a" stroke-width="3" stroke-dasharray="4.2 3.8" stroke-linejoin="round" clip-path="url(#cb)"/>
<path d="M1437.1,760.2 L1440.92,758.66 L1444.77,757.28 L1448.64,756.06 L1452.53,754.98 L1456.45,754.04 L1460.39,753.22 L1464.35,752.54 L1468.32,751.96 L1472.32,751.5 L1476.33,751.14 L1480.35,750.87 L1484.39,750.69 L1488.44,750.6 L1492.5,750.57 L1496.57,750.61 L1500.65,750.71 L1504.74,750.86 L1508.83,751.05 L1512.93,751.28 L1517.03,751.54 L1521.13,751.82 L1525.23,752.12 L1529.34,752.44 L1533.44,752.77 L1537.55,753.12 L1541.66,753.47 L1545.76,753.84 L1549.87,754.22 L1553.98,754.6 L1558.09,754.99 L1562.2,755.39 L1566.31,755.78 L1570.42,756.17 L1574.54,756.57 L1578.65,756.95 L1582.76,757.34 L1586.87,757.71 L1590.98,758.08 L1595.09,758.44 L1599.2,758.78 L1603.31,759.11 L1607.42,759.43 L1611.53,759.73 L1615.64,760.01 L1619.74,760.26 L1623.85,760.5 L1627.95,760.71 L1632.06,760.9 L1636.16,761.05 L1640.26,761.18 L1644.36,761.28 L1648.46,761.35 L1652.55,761.38 L1656.65,761.37 L1660.74,761.33 L1664.83,761.24 L1668.92,761.12 L1673,760.95 L1677.09,760.74 L1681.17,760.48 L1685.25,760.17 L1689.33,759.81 L1693.4,759.4" fill="none" stroke="#8fac3a" stroke-width="3" stroke-dasharray="4.2 3.8" stroke-linejoin="round" clip-path="url(#cb)"/>
<path d="M1001.7,12.5 L1001.9,130 L1002.19,134.07 L1002.52,138.14 L1002.88,142.19 L1003.28,146.24 L1003.71,150.27 L1004.18,154.3 L1004.67,158.32 L1005.21,162.33 L1005.77,166.33 L1006.37,170.32 L1006.99,174.31 L1007.65,178.29 L1008.34,182.25 L1009.06,186.21 L1009.82,190.17 L1010.6,194.11 L1011.41,198.04 L1012.25,201.97 L1013.12,205.89 L1014.02,209.8 L1014.95,213.71 L1015.9,217.6 L1016.88,221.49 L1017.89,225.37 L1018.93,229.24 L1019.99,233.11 L1021.08,236.97 L1022.2,240.82 L1023.34,244.66 L1024.5,248.5 L1025.69,252.33 L1026.91,256.15 L1028.14,259.97 L1029.41,263.77 L1030.69,267.58 L1032,271.37 L1033.33,275.16 L1034.68,278.94 L1036.06,282.71 L1037.45,286.48 L1038.87,290.24 L1040.31,294 L1041.76,297.75 L1043.24,301.49 L1044.74,305.23 L1046.26,308.96 L1047.79,312.68 L1049.35,316.4 L1050.92,320.11 L1052.51,323.82 L1054.12,327.52 L1055.75,331.21 L1057.39,334.9 L1059.05,338.58 L1060.72,342.26 L1062.41,345.93 L1064.12,349.6 L1065.84,353.26 L1067.57,356.92 L1069.32,360.57 L1071.09,364.21 L1072.86,367.85 L1074.65,371.49 L1076.46,375.12 L1078.27,378.75 L1080.1,382.37 L1081.94,385.98 L1083.79,389.6 L1085.65,393.2 L1087.53,396.8 L1089.41,400.4 L1091.3,404 L1093.2,407.59 L1095.12,411.17 L1097.04,414.75 L1098.97,418.33 L1100.9,421.9 L1102.85,425.47 L1104.8,429.03 L1106.76,432.59 L1108.73,436.15 L1110.7,439.7 L1112.68,443.25 L1114.66,446.8 L1116.65,450.34 L1118.65,453.88 L1120.65,457.41 L1122.65,460.94 L1124.66,464.47 L1126.67,468 L1128.68,471.52 L1130.7,475.04 L1132.72,478.55 L1134.74,482.07 L1136.77,485.58 L1138.8,489.08 L1140.83,492.59 L1142.87,496.09 L1144.91,499.59 L1146.94,503.09 L1148.99,506.58 L1151.03,510.08 L1153.08,513.57 L1155.12,517.06 L1157.17,520.54 L1159.23,524.03 L1161.28,527.51 L1163.33,530.99 L1165.39,534.47 L1167.45,537.95 L1169.5,541.43 L1171.56,544.9 L1173.62,548.38 L1175.68,551.85 L1177.74,555.32 L1179.81,558.79 L1181.87,562.27 L1183.93,565.73 L1185.99,569.2 L1188.06,572.67 L1190.12,576.14 L1192.18,579.61 L1194.25,583.07 L1196.31,586.54 L1198.37,590 L1200.43,593.47 L1202.49,596.94 L1204.55,600.4 L1206.61,603.87 L1208.67,607.33 L1210.72,610.8 L1212.78,614.27 L1214.83,617.73 L1216.88,621.2 L1218.94,624.67 L1220.98,628.14 L1223.03,631.61 L1225.08,635.08 L1227.12,638.55 L1229.16,642.03 L1231.2,645.5 C1231.47,651.25 1231.9,660.88 1232.8,680 C1233.7,699.12 1235.97,746.83 1236.6,760.2" fill="none" stroke="#d29c34" stroke-width="3.2" stroke-dasharray="9.5 3.6" stroke-linejoin="round" clip-path="url(#cb)"/>
<path d="M1278.6,760.2 C1279.33,752.17 1281.58,726.78 1283,712 C1284.42,697.22 1286.42,678.25 1287.1,671.5 L1290.45,673.86 L1293.8,676.28 L1297.13,678.76 L1300.44,681.29 L1303.72,683.88 L1306.98,686.53 L1310.19,689.24 L1313.37,692 L1316.5,694.83 L1319.57,697.71 L1322.59,700.65 L1325.55,703.66 L1328.44,706.72 L1331.25,709.84 L1333.99,713.03 L1336.64,716.28 L1339.2,719.59 L1341.67,722.96 L1344.04,726.4 L1346.31,729.89 L1348.46,733.46 L1350.5,737.08 L1352.42,740.77 L1354.21,744.53 L1355.87,748.35 L1357.39,752.23 L1358.77,756.18 L1360,760.2" fill="none" stroke="#d29c34" stroke-width="3.2" stroke-dasharray="9.5 3.6" stroke-linejoin="round" clip-path="url(#cb)"/>
<path d="M1437.1,760.2 L1440.92,758.66 L1444.77,757.28 L1448.64,756.06 L1452.53,754.98 L1456.45,754.04 L1460.39,753.22 L1464.35,752.54 L1468.32,751.96 L1472.32,751.5 L1476.33,751.14 L1480.35,750.87 L1484.39,750.69 L1488.44,750.6 L1492.5,750.57 L1496.57,750.61 L1500.65,750.71 L1504.74,750.86 L1508.83,751.05 L1512.93,751.28 L1517.03,751.54 L1521.13,751.82 L1525.23,752.12 L1529.34,752.44 L1533.44,752.77 L1537.55,753.12 L1541.66,753.47 L1545.76,753.84 L1549.87,754.22 L1553.98,754.6 L1558.09,754.99 L1562.2,755.39 L1566.31,755.78 L1570.42,756.17 L1574.54,756.57 L1578.65,756.95 L1582.76,757.34 L1586.87,757.71 L1590.98,758.08 L1595.09,758.44 L1599.2,758.78 L1603.31,759.11 L1607.42,759.43 L1611.53,759.73 L1615.64,760.01 L1619.74,760.26 L1623.85,760.5 L1627.95,760.71 L1632.06,760.9 L1636.16,761.05 L1640.26,761.18 L1644.36,761.28 L1648.46,761.35 L1652.55,761.38 L1656.65,761.37 L1660.74,761.33 L1664.83,761.24 L1668.92,761.12 L1673,760.95 L1677.09,760.74 L1681.17,760.48 L1685.25,760.17 L1689.33,759.81 L1693.4,759.4" fill="none" stroke="#d29c34" stroke-width="3.2" stroke-dasharray="9.5 3.6" stroke-linejoin="round" clip-path="url(#cb)"/>
<g opacity="0.2" clip-path="url(#fb)"><polygon points="1230.7,626.4 1286.4,654.3 1594,757.6" fill="#6380b6" stroke="#6380b6" stroke-width="4" stroke-linejoin="round"/></g>
<line x1="1230.7" y1="626.4" x2="1286.4" y2="654.3" stroke="#6380b6" stroke-opacity="0.3" stroke-width="1.0" stroke-dasharray="none" clip-path="url(#fb)"/>
<line x1="1230.7" y1="626.4" x2="1286.4" y2="654.3" stroke="#6380b6" stroke-opacity="0.85" stroke-width="1.15" stroke-dasharray="6.6 6.1" clip-path="url(#fb)"/>
<line x1="1286.4" y1="654.3" x2="1594" y2="757.6" stroke="#6380b6" stroke-opacity="0.3" stroke-width="1.0" stroke-dasharray="none" clip-path="url(#fb)"/>
<line x1="1286.4" y1="654.3" x2="1594" y2="757.6" stroke="#6380b6" stroke-opacity="0.85" stroke-width="1.15" stroke-dasharray="6.6 6.1" clip-path="url(#fb)"/>
<line x1="1594" y1="757.6" x2="1230.7" y2="626.4" stroke="#6380b6" stroke-opacity="0.3" stroke-width="1.0" stroke-dasharray="none" clip-path="url(#fb)"/>
<line x1="1594" y1="757.6" x2="1230.7" y2="626.4" stroke="#6380b6" stroke-opacity="0.85" stroke-width="1.15" stroke-dasharray="6.6 6.1" clip-path="url(#fb)"/>
<g opacity="0.2" clip-path="url(#fb)"><polygon points="1231.2,645.5 1287.1,671.4 1580.3,756.8" fill="#d29c34" stroke="#d29c34" stroke-width="4" stroke-linejoin="round"/></g>
<line x1="1231.2" y1="645.5" x2="1287.1" y2="671.4" stroke="#d29c34" stroke-opacity="0.3" stroke-width="1.0" stroke-dasharray="none" clip-path="url(#fb)"/>
<line x1="1231.2" y1="645.5" x2="1287.1" y2="671.4" stroke="#d29c34" stroke-opacity="0.85" stroke-width="1.15" stroke-dasharray="6.6 6.1" clip-path="url(#fb)"/>
<line x1="1287.1" y1="671.4" x2="1580.3" y2="756.8" stroke="#d29c34" stroke-opacity="0.3" stroke-width="1.0" stroke-dasharray="none" clip-path="url(#fb)"/>
<line x1="1287.1" y1="671.4" x2="1580.3" y2="756.8" stroke="#d29c34" stroke-opacity="0.85" stroke-width="1.15" stroke-dasharray="6.6 6.1" clip-path="url(#fb)"/>
<line x1="1580.3" y1="756.8" x2="1231.2" y2="645.5" stroke="#d29c34" stroke-opacity="0.3" stroke-width="1.0" stroke-dasharray="none" clip-path="url(#fb)"/>
<line x1="1580.3" y1="756.8" x2="1231.2" y2="645.5" stroke="#d29c34" stroke-opacity="0.85" stroke-width="1.15" stroke-dasharray="6.6 6.1" clip-path="url(#fb)"/>
<line x1="1400.3" y1="656.3" x2="1389.71" y2="674.21" stroke="#6380b6" stroke-width="1.1"/>
<polygon points="1383.1,685.4 1386.86,670.2 1394.61,674.78" fill="#6380b6"/>
<line x1="1400.3" y1="656.3" x2="1412.67" y2="695.31" stroke="#d29c34" stroke-width="1.1"/>
<polygon points="1416.6,707.7 1407.78,694.76 1416.36,692.04" fill="#d29c34"/>
<line x1="1566.6" y1="730" x2="1511.73" y2="752.47" stroke="#000" stroke-width="1.1"/>
<polygon points="1499.7,757.4 1511.76,747.27 1515.4,756.16" fill="#000"/>
<text x="1051" y="99" font-size="39.5" text-anchor="start" transform="matrix(1,0,0,1.0,0,-0)">(b)</text>
<line x1="1311.9" y1="61" x2="1377" y2="61" stroke="#6380b6" stroke-width="3.4"/>
<line x1="1311.9" y1="121.3" x2="1373" y2="121.3" stroke="#8fac3a" stroke-width="3" stroke-dasharray="4.2 3.8"/>
<line x1="1311.9" y1="181.3" x2="1374" y2="181.3" stroke="#d29c34" stroke-width="3.2" stroke-dasharray="9.4 3.6"/>
<text x="1393" y="71.5" font-size="33" text-anchor="start" transform="matrix(1,0,0,1.05,0,-3.58)">Penetrable hard sphere</text>
<text x="1393" y="131.5" font-size="33" text-anchor="start" transform="matrix(1,0,0,1.05,0,-6.58)">Dilute polymer</text>
<text x="1393" y="191.4" font-size="33" text-anchor="start" transform="matrix(1,0,0,1.05,0,-9.57)">Interacting polymer</text>
<text x="1583" y="279" font-size="39.3" text-anchor="middle" transform="matrix(1,0,0,1.0,0,-0)"><tspan font-style="italic">L</tspan>/<tspan font-style="italic">D</tspan> = 0.08</text>
<text x="1583" y="323.6" font-size="39.3" text-anchor="middle" transform="matrix(1,0,0,1.0,0,-0)"><tspan font-style="italic">q</tspan> = 0.05</text>
<text x="1400" y="548" font-size="33" text-anchor="middle" transform="matrix(1,0,0,1.05,0,-27.4)">I<tspan baseline-shift="-1.7">&#x2212;</tspan>C</text>
<text x="1400.3" y="652" font-size="33" text-anchor="middle" transform="matrix(1,0,0,1.05,0,-32.6)">I<tspan baseline-shift="-1.7">&#x2212;</tspan>N<tspan baseline-shift="-1.7">&#x2212;</tspan>C</text>
<text x="1145" y="741.2" font-size="33" text-anchor="start" transform="matrix(1,0,0,1.05,0,-37.06)">I</text>
<text x="1304.5" y="741.2" font-size="33" text-anchor="start" transform="matrix(1,0,0,1.05,0,-37.06)">N</text>
<text x="1400.7" y="741.2" font-size="33" text-anchor="middle" transform="matrix(1,0,0,1.05,0,-37.06)">N<tspan baseline-shift="-1.7">&#x2212;</tspan>C</text>
<text x="1571" y="741.2" font-size="33" text-anchor="start" transform="matrix(1,0,0,1.05,0,-37.06)">C</text>
<text transform="translate(1270,756) rotate(-90) scale(1,1.05)" font-size="33">I<tspan baseline-shift="-1.7">&#x2212;</tspan>N</text>
<text transform="translate(909.9,685.1) rotate(-90) scale(1,1.05)" font-size="32.7">Polymer system relative concentration</text>
<text transform="translate(909.9,122.5) rotate(-90) scale(1.26,1.05)" font-size="32.7" font-style="italic">&#x3D5;</text>
<rect x="102.5" y="828.5" width="766" height="766" fill="none" stroke="#777777" stroke-width="1"/>
<text x="102.4" y="1629.6" font-size="33" text-anchor="middle" transform="matrix(1,0,0,1.05,0,-81.48)">0.0</text>
<text x="220.2" y="1629.6" font-size="33" text-anchor="middle" transform="matrix(1,0,0,1.05,0,-81.48)">0.1</text>
<text x="338" y="1629.6" font-size="33" text-anchor="middle" transform="matrix(1,0,0,1.05,0,-81.48)">0.2</text>
<text x="455.8" y="1629.6" font-size="33" text-anchor="middle" transform="matrix(1,0,0,1.05,0,-81.48)">0.3</text>
<text x="573.6" y="1629.6" font-size="33" text-anchor="middle" transform="matrix(1,0,0,1.05,0,-81.48)">0.4</text>
<text x="691.4" y="1629.6" font-size="33" text-anchor="middle" transform="matrix(1,0,0,1.05,0,-81.48)">0.5</text>
<text x="809.2" y="1629.6" font-size="33" text-anchor="middle" transform="matrix(1,0,0,1.05,0,-81.48)">0.6</text>
<text x="96.6" y="1605.9" font-size="33" text-anchor="end" transform="matrix(1,0,0,1.05,0,-80.3)">0.0</text>
<text x="96.6" y="1414.32" font-size="33" text-anchor="end" transform="matrix(1,0,0,1.05,0,-70.72)">0.1</text>
<text x="96.6" y="1222.75" font-size="33" text-anchor="end" transform="matrix(1,0,0,1.05,0,-61.14)">0.2</text>
<text x="96.6" y="1031.17" font-size="33" text-anchor="end" transform="matrix(1,0,0,1.05,0,-51.56)">0.3</text>
<text x="96.6" y="839.6" font-size="33" text-anchor="end" transform="matrix(1,0,0,1.05,0,-41.98)">0.4</text>
<path d="M102.8,828.3 L103.8,960 L103.63,964.09 L103.5,968.18 L103.42,972.25 L103.39,976.32 L103.4,980.38 L103.45,984.43 L103.55,988.47 L103.69,992.5 L103.87,996.53 L104.1,1000.54 L104.36,1004.55 L104.66,1008.56 L105,1012.56 L105.38,1016.55 L105.79,1020.53 L106.24,1024.51 L106.72,1028.48 L107.24,1032.45 L107.78,1036.41 L108.36,1040.37 L108.98,1044.32 L109.62,1048.27 L110.29,1052.21 L110.99,1056.15 L111.71,1060.08 L112.47,1064.01 L113.25,1067.94 L114.05,1071.86 L114.88,1075.78 L115.73,1079.7 L116.61,1083.62 L117.5,1087.53 L118.42,1091.44 L119.35,1095.35 L120.31,1099.25 L121.28,1103.16 L122.27,1107.06 L123.28,1110.96 L124.3,1114.87 L125.33,1118.77 L126.38,1122.67 L127.45,1126.57 L128.52,1130.47 L129.62,1134.36 L130.72,1138.26 L131.85,1142.15 L132.98,1146.04 L134.14,1149.93 L135.3,1153.81 L136.49,1157.7 L137.69,1161.57 L138.9,1165.45 L140.13,1169.32 L141.38,1173.18 L142.65,1177.04 L143.93,1180.9 L145.23,1184.75 L146.54,1188.6 L147.88,1192.43 L149.23,1196.27 L150.6,1200.09 L151.99,1203.91 L153.39,1207.72 L154.81,1211.53 L156.26,1215.32 L157.72,1219.11 L159.2,1222.89 L160.7,1226.66 L162.22,1230.42 L163.76,1234.17 L165.31,1237.92 L166.89,1241.65 L168.49,1245.37 L170.11,1249.08 L171.75,1252.79 L173.41,1256.48 L175.09,1260.15 L176.79,1263.82 L178.52,1267.48 L180.26,1271.12 L182.03,1274.75 L183.82,1278.36 L185.63,1281.97 L187.46,1285.56 L189.32,1289.13 L191.2,1292.69 L193.1,1296.24 L195.02,1299.77 L196.97,1303.29 L198.94,1306.79 L200.94,1310.28 L202.96,1313.75 L205,1317.21 L207.06,1320.65 L209.14,1324.08 L211.25,1327.49 L213.38,1330.89 L215.52,1334.28 L217.69,1337.65 L219.88,1341.01 L222.1,1344.35 L224.33,1347.68 L226.58,1351 L228.85,1354.3 L231.14,1357.59 L233.45,1360.86 L235.78,1364.12 L238.13,1367.37 L240.5,1370.61 L242.89,1373.83 L245.29,1377.04 L247.71,1380.24 L250.16,1383.42 L252.61,1386.59 L255.09,1389.75 L257.58,1392.9 L260.09,1396.03 L262.62,1399.16 L265.16,1402.27 L267.72,1405.36 L270.29,1408.45 L272.88,1411.53 L275.49,1414.59 L278.11,1417.64 L280.75,1420.68 L283.4,1423.71 L286.06,1426.73 L288.74,1429.74 L291.44,1432.73 L294.14,1435.72 L296.87,1438.69 L299.6,1441.66 L302.35,1444.61 L305.11,1447.55 L307.88,1450.48 L310.67,1453.4 L313.47,1456.32 L316.28,1459.22 L319.1,1462.11 L321.93,1464.99 L324.78,1467.86 L327.63,1470.73 L330.5,1473.58 L333.38,1476.42 L336.26,1479.26 L339.16,1482.08 L342.06,1484.9 L344.97,1487.72 L347.89,1490.53 L350.8,1493.33 L353.72,1496.14 L356.63,1498.95 L359.54,1501.75 L362.45,1504.57 L365.35,1507.38 L368.23,1510.21 L371.11,1513.04 L373.98,1515.88 L376.83,1518.74 L379.66,1521.61 L382.48,1524.49 L385.27,1527.38 L388.04,1530.3 L390.79,1533.23 L393.51,1536.19 L396.21,1539.16 L398.87,1542.16 L401.51,1545.19 L404.11,1548.24 L406.68,1551.32 L409.2,1554.42 L411.7,1557.56 L414.14,1560.74 L416.55,1563.94 L418.91,1567.19 L421.23,1570.47 L423.5,1573.79 L425.72,1577.15 L427.89,1580.55 L430,1583.99 L432.06,1587.48 L434.06,1591.02 L436,1594.6" fill="none" stroke="#6380b6" stroke-width="3.2" stroke-linejoin="round" clip-path="url(#cc)"/>
<path d="M494.9,1594.6 L498.61,1592.84 L502.41,1591.3 L506.29,1589.95 L510.24,1588.78 L514.26,1587.8 L518.33,1586.98 L522.46,1586.31 L526.64,1585.79 L530.86,1585.41 L535.12,1585.14 L539.4,1585 L543.71,1584.95 L548.03,1585 L552.37,1585.13 L556.71,1585.33 L561.04,1585.59 L565.37,1585.9 L569.69,1586.25 L573.98,1586.63 L578.25,1587.04 L582.48,1587.52 L586.66,1588.08 L590.79,1588.75 L594.86,1589.56 L598.85,1590.52 L602.76,1591.67 L606.58,1593.02 L610.3,1594.6" fill="none" stroke="#6380b6" stroke-width="3.2" stroke-linejoin="round" clip-path="url(#cc)"/>
<path d="M102.6,828.3 L103,1000 L102.78,1004.04 L102.59,1008.09 L102.43,1012.13 L102.31,1016.17 L102.22,1020.21 L102.16,1024.25 L102.13,1028.28 L102.14,1032.32 L102.17,1036.36 L102.24,1040.39 L102.34,1044.42 L102.47,1048.45 L102.63,1052.47 L102.82,1056.5 L103.05,1060.52 L103.3,1064.54 L103.59,1068.55 L103.91,1072.56 L104.25,1076.57 L104.63,1080.58 L105.04,1084.58 L105.48,1088.58 L105.95,1092.58 L106.44,1096.57 L106.97,1100.55 L107.53,1104.54 L108.12,1108.51 L108.73,1112.49 L109.38,1116.45 L110.05,1120.42 L110.76,1124.38 L111.49,1128.33 L112.25,1132.28 L113.04,1136.22 L113.86,1140.16 L114.71,1144.09 L115.59,1148.01 L116.49,1151.93 L117.42,1155.84 L118.38,1159.75 L119.37,1163.64 L120.39,1167.54 L121.43,1171.42 L122.5,1175.3 L123.6,1179.17 L124.72,1183.03 L125.87,1186.89 L127.05,1190.73 L128.26,1194.57 L129.49,1198.41 L130.75,1202.23 L132.04,1206.04 L133.35,1209.85 L134.69,1213.65 L136.05,1217.44 L137.44,1221.21 L138.86,1224.99 L140.3,1228.75 L141.77,1232.5 L143.26,1236.24 L144.78,1239.97 L146.32,1243.69 L147.89,1247.41 L149.48,1251.11 L151.1,1254.8 L152.74,1258.48 L154.41,1262.15 L156.1,1265.81 L157.82,1269.45 L159.56,1273.09 L161.32,1276.72 L163.11,1280.33 L164.92,1283.93 L166.76,1287.52 L168.62,1291.1 L170.5,1294.66 L172.41,1298.22 L174.34,1301.76 L176.29,1305.29 L178.27,1308.8 L180.27,1312.3 L182.29,1315.79 L184.33,1319.27 L186.4,1322.73 L188.49,1326.18 L190.6,1329.61 L192.73,1333.04 L194.89,1336.44 L197.06,1339.84 L199.26,1343.21 L201.48,1346.58 L203.72,1349.93 L205.99,1353.26 L208.27,1356.58 L210.58,1359.88 L212.9,1363.17 L215.25,1366.45 L217.62,1369.7 L220.01,1372.95 L222.42,1376.17 L224.85,1379.38 L227.29,1382.58 L229.76,1385.75 L232.25,1388.91 L234.76,1392.06 L237.29,1395.18 L239.84,1398.29 L242.41,1401.39 L245,1404.46 L247.6,1407.53 L250.22,1410.57 L252.87,1413.6 L255.52,1416.62 L258.2,1419.62 L260.89,1422.6 L263.6,1425.58 L266.32,1428.53 L269.06,1431.47 L271.82,1434.4 L274.59,1437.32 L277.38,1440.22 L280.18,1443.11 L282.99,1445.98 L285.82,1448.85 L288.66,1451.7 L291.52,1454.54 L294.39,1457.36 L297.27,1460.18 L300.16,1462.98 L303.07,1465.77 L305.98,1468.55 L308.91,1471.32 L311.85,1474.08 L314.8,1476.83 L317.76,1479.57 L320.73,1482.29 L323.71,1485.01 L326.69,1487.72 L329.69,1490.42 L332.7,1493.11 L335.71,1495.79 L338.74,1498.47 L341.77,1501.13 L344.8,1503.79 L347.85,1506.44 L350.9,1509.08 L353.96,1511.71 L357.02,1514.34 L360.09,1516.96 L363.16,1519.57 L366.24,1522.18 L369.31,1524.79 L372.38,1527.41 L375.44,1530.03 L378.49,1532.66 L381.53,1535.3 L384.55,1537.95 L387.55,1540.62 L390.53,1543.3 L393.49,1546.02 L396.41,1548.75 L399.31,1551.51 L402.17,1554.3 L405,1557.13 L407.78,1559.99 L410.53,1562.89 L413.23,1565.83 L415.88,1568.82 L418.48,1571.85 L421.02,1574.93 L423.51,1578.06 L425.94,1581.25 L428.31,1584.49 L430.61,1587.8 L432.84,1591.17 L435,1594.6" fill="none" stroke="#8fac3a" stroke-width="3" stroke-dasharray="4.2 3.8" stroke-linejoin="round" clip-path="url(#cc)"/>
<path d="M496,1594.6 L499.83,1593.38 L503.72,1592.28 L507.65,1591.29 L511.63,1590.41 L515.64,1589.64 L519.7,1588.98 L523.78,1588.41 L527.9,1587.95 L532.03,1587.58 L536.2,1587.31 L540.37,1587.12 L544.56,1587.02 L548.76,1587.01 L552.97,1587.07 L557.18,1587.21 L561.38,1587.42 L565.58,1587.71 L569.77,1588.06 L573.95,1588.47 L578.11,1588.95 L582.25,1589.49 L586.36,1590.08 L590.45,1590.72 L594.5,1591.41 L598.51,1592.15 L602.49,1592.93 L606.42,1593.74 L610.3,1594.6" fill="none" stroke="#8fac3a" stroke-width="3" stroke-dasharray="4.2 3.8" stroke-linejoin="round" clip-path="url(#cc)"/>
<path d="M102.6,828.3 L103,1000 L102.94,1004.02 L102.87,1008.05 L102.82,1012.08 L102.76,1016.12 L102.71,1020.15 L102.67,1024.19 L102.64,1028.23 L102.62,1032.28 L102.6,1036.32 L102.6,1040.36 L102.61,1044.4 L102.63,1048.45 L102.67,1052.49 L102.73,1056.53 L102.8,1060.57 L102.89,1064.61 L103,1068.65 L103.12,1072.69 L103.27,1076.72 L103.45,1080.75 L103.64,1084.78 L103.87,1088.8 L104.11,1092.82 L104.39,1096.84 L104.69,1100.85 L105.02,1104.86 L105.38,1108.86 L105.78,1112.86 L106.2,1116.85 L106.66,1120.83 L107.16,1124.81 L107.69,1128.78 L108.26,1132.74 L108.87,1136.69 L109.51,1140.64 L110.2,1144.58 L110.93,1148.51 L111.69,1152.43 L112.5,1156.35 L113.35,1160.25 L114.24,1164.15 L115.16,1168.03 L116.13,1171.91 L117.13,1175.78 L118.17,1179.64 L119.24,1183.49 L120.36,1187.33 L121.51,1191.16 L122.69,1194.99 L123.91,1198.8 L125.16,1202.6 L126.45,1206.4 L127.77,1210.19 L129.13,1213.96 L130.52,1217.73 L131.94,1221.48 L133.39,1225.23 L134.87,1228.97 L136.39,1232.69 L137.94,1236.41 L139.51,1240.11 L141.12,1243.81 L142.76,1247.49 L144.42,1251.17 L146.12,1254.83 L147.84,1258.48 L149.59,1262.12 L151.37,1265.74 L153.17,1269.36 L155,1272.96 L156.86,1276.55 L158.74,1280.13 L160.65,1283.7 L162.59,1287.26 L164.55,1290.8 L166.53,1294.33 L168.54,1297.85 L170.57,1301.35 L172.62,1304.84 L174.7,1308.32 L176.79,1311.79 L178.91,1315.24 L181.05,1318.67 L183.21,1322.1 L185.4,1325.51 L187.6,1328.9 L189.82,1332.29 L192.06,1335.65 L194.32,1339.01 L196.6,1342.34 L198.89,1345.67 L201.21,1348.98 L203.54,1352.27 L205.88,1355.55 L208.25,1358.81 L210.63,1362.06 L213.03,1365.29 L215.45,1368.51 L217.88,1371.71 L220.34,1374.89 L222.81,1378.06 L225.3,1381.21 L227.8,1384.34 L230.33,1387.46 L232.88,1390.56 L235.44,1393.64 L238.02,1396.71 L240.63,1399.75 L243.25,1402.78 L245.89,1405.79 L248.55,1408.78 L251.23,1411.76 L253.93,1414.71 L256.65,1417.64 L259.4,1420.56 L262.16,1423.46 L264.94,1426.33 L267.75,1429.19 L270.57,1432.03 L273.42,1434.85 L276.29,1437.64 L279.18,1440.42 L282.09,1443.18 L285.02,1445.91 L287.98,1448.63 L290.96,1451.32 L293.96,1453.99 L296.98,1456.64 L300.02,1459.27 L303.09,1461.88 L306.17,1464.47 L309.27,1467.04 L312.39,1469.6 L315.52,1472.15 L318.66,1474.68 L321.81,1477.21 L324.97,1479.73 L328.13,1482.24 L331.3,1484.75 L334.47,1487.26 L337.65,1489.76 L340.82,1492.27 L343.99,1494.78 L347.15,1497.3 L350.31,1499.82 L353.46,1502.35 L356.6,1504.89 L359.73,1507.44 L362.85,1510 L365.95,1512.58 L369.03,1515.18 L372.09,1517.79 L375.13,1520.43 L378.14,1523.08 L381.13,1525.77 L384.09,1528.48 L387.02,1531.21 L389.92,1533.98 L392.78,1536.77 L395.61,1539.61 L398.4,1542.47 L401.14,1545.38 L403.85,1548.32 L406.51,1551.3 L409.12,1554.32 L411.68,1557.39 L414.19,1560.51 L416.65,1563.67 L419.05,1566.89 L421.39,1570.15 L423.67,1573.47 L425.89,1576.84 L428.05,1580.27 L430.14,1583.76 L432.17,1587.31 L434.12,1590.92 L436,1594.6" fill="none" stroke="#d29c34" stroke-width="3.2" stroke-dasharray="9.5 3.6" stroke-linejoin="round" clip-path="url(#cc)"/>
<path d="M494.9,1594.6 L498.61,1592.84 L502.41,1591.3 L506.29,1589.95 L510.24,1588.78 L514.26,1587.8 L518.33,1586.98 L522.46,1586.31 L526.64,1585.79 L530.86,1585.41 L535.12,1585.14 L539.4,1585 L543.71,1584.95 L548.03,1585 L552.37,1585.13 L556.71,1585.33 L561.04,1585.59 L565.37,1585.9 L569.69,1586.25 L573.98,1586.63 L578.25,1587.04 L582.48,1587.52 L586.66,1588.08 L590.79,1588.75 L594.86,1589.56 L598.85,1590.52 L602.76,1591.67 L606.58,1593.02 L610.3,1594.6" fill="none" stroke="#d29c34" stroke-width="3.2" stroke-dasharray="9.5 3.6" stroke-linejoin="round" clip-path="url(#cc)"/>
<path d="M722,1594.3 L822,1594.3" fill="none" stroke="#6380b6" stroke-width="3.2" stroke-linejoin="round" clip-path="url(#cc)"/>
<path d="M722,1594.3 L822,1594.3" fill="none" stroke="#8fac3a" stroke-width="3" stroke-dasharray="4.2 3.8" stroke-linejoin="round" clip-path="url(#cc)"/>
<path d="M722,1594.3 L868,1594.3" fill="none" stroke="#d29c34" stroke-width="3.2" stroke-dasharray="9.5 3.6" stroke-linejoin="round" clip-path="url(#cc)"/>
<g opacity="0.2" clip-path="url(#fc)"><polygon points="125.4,1118.1 601,1588 724.6,1592.6" fill="#6380b6" stroke="#6380b6" stroke-width="4" stroke-linejoin="round"/></g>
<line x1="125.4" y1="1118.1" x2="601" y2="1588" stroke="#6380b6" stroke-opacity="0.3" stroke-width="1.0" stroke-dasharray="none" clip-path="url(#fc)"/>
<line x1="125.4" y1="1118.1" x2="601" y2="1588" stroke="#6380b6" stroke-opacity="0.85" stroke-width="1.15" stroke-dasharray="6.6 6.1" clip-path="url(#fc)"/>
<line x1="601" y1="1588" x2="724.6" y2="1592.6" stroke="#6380b6" stroke-opacity="0.3" stroke-width="1.0" stroke-dasharray="none" clip-path="url(#fc)"/>
<line x1="601" y1="1588" x2="724.6" y2="1592.6" stroke="#6380b6" stroke-opacity="0.85" stroke-width="1.15" stroke-dasharray="6.6 6.1" clip-path="url(#fc)"/>
<line x1="724.6" y1="1592.6" x2="125.4" y2="1118.1" stroke="#6380b6" stroke-opacity="0.3" stroke-width="1.0" stroke-dasharray="none" clip-path="url(#fc)"/>
<line x1="724.6" y1="1592.6" x2="125.4" y2="1118.1" stroke="#6380b6" stroke-opacity="0.85" stroke-width="1.15" stroke-dasharray="6.6 6.1" clip-path="url(#fc)"/>
<g opacity="0.2" clip-path="url(#fc)"><polygon points="128.1,1205.7 606,1593 722.3,1591.4" fill="#d29c34" stroke="#d29c34" stroke-width="4" stroke-linejoin="round"/></g>
<line x1="128.1" y1="1205.7" x2="606" y2="1593" stroke="#d29c34" stroke-opacity="0.3" stroke-width="1.0" stroke-dasharray="none" clip-path="url(#fc)"/>
<line x1="128.1" y1="1205.7" x2="606" y2="1593" stroke="#d29c34" stroke-opacity="0.85" stroke-width="1.15" stroke-dasharray="6.6 6.1" clip-path="url(#fc)"/>
<line x1="606" y1="1593" x2="722.3" y2="1591.4" stroke="#d29c34" stroke-opacity="0.3" stroke-width="1.0" stroke-dasharray="none" clip-path="url(#fc)"/>
<line x1="606" y1="1593" x2="722.3" y2="1591.4" stroke="#d29c34" stroke-opacity="0.85" stroke-width="1.15" stroke-dasharray="6.6 6.1" clip-path="url(#fc)"/>
<line x1="722.3" y1="1591.4" x2="128.1" y2="1205.7" stroke="#d29c34" stroke-opacity="0.3" stroke-width="1.0" stroke-dasharray="none" clip-path="url(#fc)"/>
<line x1="722.3" y1="1591.4" x2="128.1" y2="1205.7" stroke="#d29c34" stroke-opacity="0.85" stroke-width="1.15" stroke-dasharray="6.6 6.1" clip-path="url(#fc)"/>
<line x1="337.8" y1="1228.1" x2="318.88" y2="1275.91" stroke="#6380b6" stroke-width="1.1"/>
<polygon points="314.1,1288 315.43,1272.4 323.8,1275.71" fill="#6380b6"/>
<line x1="337.8" y1="1228.1" x2="358.9" y2="1371.24" stroke="#d29c34" stroke-width="1.1"/>
<polygon points="360.8,1384.1 354.16,1369.92 363.06,1368.6" fill="#d29c34"/>
<text x="155" y="918" font-size="39.5" text-anchor="start" transform="matrix(1,0,0,1.0,0,-0)">(c)</text>
<text x="715" y="917.9" font-size="39.3" text-anchor="middle" transform="matrix(1,0,0,1.0,0,-0)"><tspan font-style="italic">L</tspan>/<tspan font-style="italic">D</tspan> = 0.08</text>
<text x="715" y="955.6" font-size="39.3" text-anchor="middle" transform="matrix(1,0,0,1.0,0,-0)"><tspan font-style="italic">q</tspan> = 0.18</text>
<text x="338" y="1222" font-size="33" text-anchor="middle" transform="matrix(1,0,0,1.05,0,-61.1)">I<tspan baseline-shift="-1.7">&#x2212;</tspan>N<tspan baseline-shift="-1.7">&#x2212;</tspan>C</text>
<text x="574" y="1377" font-size="33" text-anchor="middle" transform="matrix(1,0,0,1.05,0,-68.85)">I<tspan baseline-shift="-1.7">&#x2212;</tspan>C</text>
<text x="217" y="1510" font-size="33" text-anchor="start" transform="matrix(1,0,0,1.05,0,-75.5)">I</text>
<text x="468" y="1548.5" font-size="33" text-anchor="middle" transform="matrix(1,0,0,1.05,0,-77.43)">I<tspan baseline-shift="-1.7">&#x2212;</tspan>N</text>
<text transform="translate(27,1510.4) rotate(-90) scale(1,1.05)" font-size="32.7">Polymer system relative concentration</text>
<text transform="translate(27,947.8) rotate(-90) scale(1.26,1.05)" font-size="32.7" font-style="italic">&#x3D5;</text>
<rect x="983.5" y="819.5" width="765" height="766" fill="none" stroke="#777777" stroke-width="1"/>
<text x="983.2" y="1620" font-size="33" text-anchor="middle" transform="matrix(1,0,0,1.05,0,-81)">0.0</text>
<text x="1101" y="1620" font-size="33" text-anchor="middle" transform="matrix(1,0,0,1.05,0,-81)">0.1</text>
<text x="1218.8" y="1620" font-size="33" text-anchor="middle" transform="matrix(1,0,0,1.05,0,-81)">0.2</text>
<text x="1336.6" y="1620" font-size="33" text-anchor="middle" transform="matrix(1,0,0,1.05,0,-81)">0.3</text>
<text x="1454.4" y="1620" font-size="33" text-anchor="middle" transform="matrix(1,0,0,1.05,0,-81)">0.4</text>
<text x="1572.2" y="1620" font-size="33" text-anchor="middle" transform="matrix(1,0,0,1.05,0,-81)">0.5</text>
<text x="1690" y="1620" font-size="33" text-anchor="middle" transform="matrix(1,0,0,1.05,0,-81)">0.6</text>
<text x="977.4" y="1596.3" font-size="33" text-anchor="end" transform="matrix(1,0,0,1.05,0,-79.82)">0.0</text>
<text x="977.4" y="1494.22" font-size="33" text-anchor="end" transform="matrix(1,0,0,1.05,0,-74.71)">0.2</text>
<text x="977.4" y="1392.14" font-size="33" text-anchor="end" transform="matrix(1,0,0,1.05,0,-69.61)">0.4</text>
<text x="977.4" y="1290.06" font-size="33" text-anchor="end" transform="matrix(1,0,0,1.05,0,-64.5)">0.6</text>
<text x="977.4" y="1187.98" font-size="33" text-anchor="end" transform="matrix(1,0,0,1.05,0,-59.4)">0.8</text>
<text x="977.4" y="1085.9" font-size="33" text-anchor="end" transform="matrix(1,0,0,1.05,0,-54.3)">1.0</text>
<text x="977.4" y="983.82" font-size="33" text-anchor="end" transform="matrix(1,0,0,1.05,0,-49.19)">1.2</text>
<text x="977.4" y="881.74" font-size="33" text-anchor="end" transform="matrix(1,0,0,1.05,0,-44.09)">1.4</text>
<path d="M983.6,819.4 L983.7,1150 L983.78,1153.82 L983.86,1157.66 L983.93,1161.51 L984,1165.39 L984.06,1169.28 L984.12,1173.19 L984.18,1177.12 L984.24,1181.06 L984.29,1185.01 L984.35,1188.99 L984.4,1192.97 L984.46,1196.97 L984.52,1200.98 L984.59,1205 L984.65,1209.04 L984.73,1213.08 L984.81,1217.14 L984.89,1221.2 L984.98,1225.28 L985.08,1229.36 L985.19,1233.45 L985.31,1237.55 L985.43,1241.65 L985.57,1245.76 L985.72,1249.87 L985.89,1253.99 L986.06,1258.11 L986.26,1262.24 L986.46,1266.37 L986.68,1270.5 L986.92,1274.63 L987.18,1278.76 L987.45,1282.9 L987.74,1287.03 L988.06,1291.16 L988.39,1295.29 L988.75,1299.42 L989.12,1303.54 L989.52,1307.66 L989.94,1311.78 L990.39,1315.89 L990.86,1320 L991.36,1324.1 L991.89,1328.19 L992.44,1332.28 L993.02,1336.36 L993.63,1340.43 L994.28,1344.49 L994.95,1348.54 L995.65,1352.58 L996.39,1356.61 L997.15,1360.62 L997.96,1364.63 L998.79,1368.62 L999.67,1372.6 L1000.57,1376.57 L1001.52,1380.51 L1002.5,1384.45 L1003.53,1388.37 L1004.59,1392.27 L1005.69,1396.15 L1006.83,1400.02 L1008.02,1403.87 L1009.24,1407.7 L1010.51,1411.51 L1011.83,1415.29 L1013.19,1419.06 L1014.59,1422.81 L1016.04,1426.53 L1017.54,1430.23 L1019.09,1433.91 L1020.69,1437.56 L1022.33,1441.19 L1024.03,1444.79 L1025.77,1448.37 L1027.57,1451.92 L1029.42,1455.44 L1031.33,1458.94 L1033.29,1462.4 L1035.3,1465.84 L1037.38,1469.25 L1039.5,1472.62 L1041.69,1475.97 L1043.93,1479.28 L1046.22,1482.56 L1048.57,1485.81 L1050.98,1489.02 L1053.43,1492.19 L1055.94,1495.32 L1058.51,1498.41 L1061.12,1501.46 L1063.78,1504.47 L1066.5,1507.44 L1069.26,1510.36 L1072.07,1513.24 L1074.93,1516.07 L1077.84,1518.85 L1080.8,1521.59 L1083.8,1524.27 L1086.84,1526.9 L1089.93,1529.48 L1093.07,1532 L1096.24,1534.47 L1099.46,1536.88 L1102.73,1539.24 L1106.03,1541.54 L1109.37,1543.77 L1112.76,1545.95 L1116.18,1548.06 L1119.64,1550.11 L1123.14,1552.1 L1126.68,1554.02 L1130.25,1555.87 L1133.86,1557.66 L1137.51,1559.37 L1141.19,1561.02 L1144.9,1562.59 L1148.65,1564.1 L1152.42,1565.54 L1156.23,1566.92 L1160.06,1568.23 L1163.92,1569.48 L1167.8,1570.67 L1171.71,1571.8 L1175.65,1572.87 L1179.6,1573.88 L1183.57,1574.84 L1187.56,1575.74 L1191.57,1576.6 L1195.6,1577.4 L1199.63,1578.15 L1203.69,1578.86 L1207.75,1579.52 L1211.82,1580.13 L1215.91,1580.7 L1220,1581.23 L1224.1,1581.71 L1228.2,1582.16 L1232.31,1582.57 L1236.41,1582.94 L1240.52,1583.28 L1244.63,1583.59 L1248.74,1583.86 L1252.85,1584.1 L1256.95,1584.32 L1261.04,1584.5 L1265.13,1584.66 L1269.21,1584.79 L1273.28,1584.91 L1277.33,1585 L1281.38,1585.06 L1285.41,1585.11 L1289.43,1585.15 L1293.43,1585.16 L1297.41,1585.16 L1301.37,1585.15 L1305.31,1585.13 L1309.23,1585.09 L1313.13,1585.05 L1317,1585" fill="none" stroke="#6380b6" stroke-width="3.2" stroke-linejoin="round" clip-path="url(#cd)"/>
<path d="M983.6,819.4 L983.7,1240 L983.73,1243.94 L983.76,1247.89 L983.78,1251.85 L983.81,1255.83 L983.85,1259.81 L983.89,1263.8 L983.93,1267.8 L983.98,1271.81 L984.04,1275.83 L984.12,1279.85 L984.2,1283.88 L984.29,1287.91 L984.4,1291.95 L984.53,1296 L984.67,1300.05 L984.82,1304.1 L985,1308.16 L985.2,1312.21 L985.42,1316.27 L985.67,1320.33 L985.93,1324.4 L986.23,1328.46 L986.55,1332.52 L986.9,1336.58 L987.28,1340.64 L987.69,1344.69 L988.13,1348.75 L988.61,1352.8 L989.12,1356.84 L989.67,1360.89 L990.26,1364.92 L990.89,1368.96 L991.55,1372.98 L992.26,1377 L993.01,1381.01 L993.81,1385.01 L994.65,1389.01 L995.54,1393 L996.48,1396.97 L997.46,1400.94 L998.5,1404.89 L999.59,1408.84 L1000.74,1412.77 L1001.93,1416.69 L1003.19,1420.6 L1004.49,1424.49 L1005.85,1428.36 L1007.27,1432.21 L1008.73,1436.04 L1010.26,1439.85 L1011.83,1443.64 L1013.46,1447.4 L1015.14,1451.13 L1016.88,1454.84 L1018.67,1458.52 L1020.51,1462.16 L1022.41,1465.77 L1024.35,1469.35 L1026.36,1472.89 L1028.41,1476.39 L1030.52,1479.85 L1032.68,1483.28 L1034.9,1486.66 L1037.16,1490 L1039.48,1493.29 L1041.85,1496.53 L1044.28,1499.73 L1046.76,1502.88 L1049.28,1505.97 L1051.87,1509.01 L1054.5,1512 L1057.19,1514.93 L1059.92,1517.81 L1062.72,1520.62 L1065.56,1523.38 L1068.45,1526.07 L1071.4,1528.7 L1074.4,1531.26 L1077.45,1533.75 L1080.55,1536.18 L1083.7,1538.54 L1086.9,1540.83 L1090.15,1543.05 L1093.45,1545.2 L1096.8,1547.29 L1100.19,1549.31 L1103.63,1551.26 L1107.1,1553.16 L1110.62,1554.99 L1114.18,1556.75 L1117.77,1558.46 L1121.41,1560.1 L1125.07,1561.69 L1128.78,1563.22 L1132.51,1564.69 L1136.28,1566.1 L1140.08,1567.46 L1143.9,1568.76 L1147.76,1570.01 L1151.64,1571.2 L1155.54,1572.34 L1159.47,1573.44 L1163.42,1574.48 L1167.4,1575.47 L1171.39,1576.41 L1175.4,1577.3 L1179.43,1578.15 L1183.47,1578.95 L1187.53,1579.7 L1191.6,1580.41 L1195.68,1581.08 L1199.77,1581.7 L1203.88,1582.29 L1207.99,1582.83 L1212.1,1583.33 L1216.22,1583.79 L1220.35,1584.21 L1224.47,1584.6 L1228.6,1584.95 L1232.73,1585.27 L1236.86,1585.55 L1240.98,1585.79 L1245.1,1586 L1249.21,1586.18 L1253.32,1586.33 L1257.42,1586.45 L1261.51,1586.54 L1265.58,1586.6 L1269.65,1586.64 L1273.7,1586.64 L1277.74,1586.62 L1281.76,1586.58 L1285.76,1586.51 L1289.75,1586.42 L1293.71,1586.31 L1297.66,1586.17 L1301.58,1586.01 L1305.47,1585.84 L1309.34,1585.64 L1313.18,1585.43 L1317,1585.2" fill="none" stroke="#8fac3a" stroke-width="3" stroke-dasharray="4.2 3.8" stroke-linejoin="round" clip-path="url(#cd)"/>
<path d="M983.6,971 L983.7,1240 L983.54,1243.82 L983.4,1247.67 L983.29,1251.54 L983.2,1255.44 L983.14,1259.36 L983.1,1263.3 L983.1,1267.26 L983.11,1271.25 L983.16,1275.25 L983.23,1279.27 L983.33,1283.3 L983.47,1287.35 L983.63,1291.41 L983.83,1295.48 L984.05,1299.57 L984.31,1303.66 L984.6,1307.76 L984.92,1311.87 L985.28,1315.98 L985.68,1320.1 L986.11,1324.21 L986.57,1328.33 L987.07,1332.45 L987.61,1336.57 L988.19,1340.69 L988.8,1344.8 L989.46,1348.9 L990.15,1353 L990.89,1357.1 L991.66,1361.18 L992.48,1365.25 L993.34,1369.31 L994.24,1373.36 L995.19,1377.39 L996.18,1381.4 L997.21,1385.4 L998.29,1389.39 L999.42,1393.35 L1000.59,1397.29 L1001.81,1401.2 L1003.08,1405.1 L1004.4,1408.97 L1005.76,1412.81 L1007.18,1416.62 L1008.65,1420.41 L1010.16,1424.17 L1011.73,1427.89 L1013.35,1431.58 L1015.03,1435.24 L1016.76,1438.86 L1018.54,1442.45 L1020.38,1446 L1022.27,1449.5 L1024.22,1452.97 L1026.22,1456.4 L1028.28,1459.78 L1030.4,1463.11 L1032.58,1466.41 L1034.82,1469.65 L1037.12,1472.85 L1039.48,1475.99 L1041.9,1479.09 L1044.38,1482.13 L1046.92,1485.12 L1049.53,1488.05 L1052.2,1490.93 L1054.94,1493.74 L1057.73,1496.5 L1060.59,1499.21 L1063.51,1501.85 L1066.49,1504.44 L1069.53,1506.97 L1072.62,1509.44 L1075.77,1511.85 L1078.97,1514.2 L1082.22,1516.5 L1085.52,1518.74 L1088.87,1520.92 L1092.27,1523.05 L1095.71,1525.11 L1099.19,1527.12 L1102.71,1529.07 L1106.28,1530.97 L1109.88,1532.8 L1113.53,1534.58 L1117.2,1536.31 L1120.91,1537.97 L1124.66,1539.58 L1128.43,1541.13 L1132.24,1542.63 L1136.07,1544.06 L1139.93,1545.44 L1143.81,1546.77 L1147.72,1548.03 L1151.65,1549.25 L1155.59,1550.4 L1159.56,1551.5 L1163.54,1552.54 L1167.55,1553.53 L1171.56,1554.47 L1175.59,1555.36 L1179.63,1556.2 L1183.69,1556.99 L1187.75,1557.74 L1191.82,1558.45 L1195.9,1559.11 L1199.99,1559.73 L1204.08,1560.32 L1208.18,1560.86 L1212.28,1561.37 L1216.38,1561.85 L1220.48,1562.29 L1224.59,1562.71 L1228.69,1563.09 L1232.79,1563.45 L1236.88,1563.78 L1240.97,1564.08 L1245.05,1564.36 L1249.12,1564.62 L1253.19,1564.86 L1257.24,1565.08 L1261.29,1565.29 L1265.32,1565.48 L1269.34,1565.65 L1273.34,1565.81 L1277.33,1565.97 L1281.3,1566.11 L1285.25,1566.25 L1289.18,1566.38 L1293.09,1566.51 L1296.98,1566.63 L1300.84,1566.75 L1304.68,1566.87 L1308.5,1567 L1318,1585" fill="none" stroke="#d29c34" stroke-width="3.2" stroke-dasharray="9.5 3.6" stroke-linejoin="round" clip-path="url(#cd)"/>
<path d="M1381.6,1580.2 L1385.71,1580.37 L1389.82,1580.54 L1393.92,1580.7 L1398.03,1580.84 L1402.14,1580.98 L1406.25,1581.12 L1410.36,1581.24 L1414.47,1581.36 L1418.58,1581.46 L1422.69,1581.57 L1426.8,1581.66 L1430.91,1581.75 L1435.02,1581.83 L1439.13,1581.91 L1443.24,1581.98 L1447.35,1582.04 L1451.46,1582.1 L1455.57,1582.16 L1459.68,1582.21 L1463.79,1582.25 L1467.9,1582.3 L1472.01,1582.33 L1476.12,1582.37 L1480.23,1582.4 L1484.34,1582.42 L1488.46,1582.45 L1492.57,1582.47 L1496.68,1582.49 L1500.79,1582.5 L1504.9,1582.52 L1509.01,1582.53 L1513.12,1582.54 L1517.24,1582.55 L1521.35,1582.56 L1525.46,1582.57 L1529.57,1582.58 L1533.68,1582.59 L1537.79,1582.59 L1541.91,1582.6 L1546.02,1582.61 L1550.13,1582.62 L1554.24,1582.63 L1558.35,1582.64 L1562.46,1582.66 L1566.57,1582.67 L1570.69,1582.69 L1574.8,1582.71 L1578.91,1582.73 L1583.02,1582.76 L1587.13,1582.79 L1591.24,1582.82 L1595.35,1582.86 L1599.46,1582.9 L1603.57,1582.94 L1607.68,1582.99 L1611.79,1583.04 L1615.91,1583.1 L1620.02,1583.16 L1624.13,1583.23 L1628.24,1583.3 L1632.34,1583.38 L1636.45,1583.47 L1640.56,1583.56 L1644.67,1583.66 L1648.78,1583.77 L1652.89,1583.88 L1657,1584" fill="none" stroke="#d29c34" stroke-width="3.2" stroke-dasharray="9.5 3.6" stroke-linejoin="round" clip-path="url(#cd)"/>
<g opacity="0.2" clip-path="url(#fd)"><polygon points="983.3,845.8 1317,1584 1377,1583" fill="#6380b6" stroke="#6380b6" stroke-width="4" stroke-linejoin="round"/></g>
<line x1="983.3" y1="845.8" x2="1317" y2="1584" stroke="#6380b6" stroke-opacity="0.3" stroke-width="1.0" stroke-dasharray="none" clip-path="url(#fd)"/>
<line x1="983.3" y1="845.8" x2="1317" y2="1584" stroke="#6380b6" stroke-opacity="0.85" stroke-width="1.15" stroke-dasharray="6.6 6.1" clip-path="url(#fd)"/>
<line x1="1317" y1="1584" x2="1377" y2="1583" stroke="#6380b6" stroke-opacity="0.3" stroke-width="1.0" stroke-dasharray="none" clip-path="url(#fd)"/>
<line x1="1317" y1="1584" x2="1377" y2="1583" stroke="#6380b6" stroke-opacity="0.85" stroke-width="1.15" stroke-dasharray="6.6 6.1" clip-path="url(#fd)"/>
<line x1="1377" y1="1583" x2="983.3" y2="845.8" stroke="#6380b6" stroke-opacity="0.3" stroke-width="1.0" stroke-dasharray="none" clip-path="url(#fd)"/>
<line x1="1377" y1="1583" x2="983.3" y2="845.8" stroke="#6380b6" stroke-opacity="0.85" stroke-width="1.15" stroke-dasharray="6.6 6.1" clip-path="url(#fd)"/>
<g opacity="0.2" clip-path="url(#fd)"><polygon points="1214.23,780 1490.2,1583.3 1587.8,1583.9 1259.36,780" fill="#6380b6" stroke="#6380b6" stroke-width="4" stroke-linejoin="round"/></g>
<line x1="1214.23" y1="780" x2="1490.2" y2="1583.3" stroke="#6380b6" stroke-opacity="0.3" stroke-width="1.0" stroke-dasharray="none" clip-path="url(#fd)"/>
<line x1="1214.23" y1="780" x2="1490.2" y2="1583.3" stroke="#6380b6" stroke-opacity="0.85" stroke-width="1.15" stroke-dasharray="6.6 6.1" clip-path="url(#fd)"/>
<line x1="1490.2" y1="1583.3" x2="1587.8" y2="1583.9" stroke="#6380b6" stroke-opacity="0.3" stroke-width="1.0" stroke-dasharray="none" clip-path="url(#fd)"/>
<line x1="1490.2" y1="1583.3" x2="1587.8" y2="1583.9" stroke="#6380b6" stroke-opacity="0.85" stroke-width="1.15" stroke-dasharray="6.6 6.1" clip-path="url(#fd)"/>
<line x1="1587.8" y1="1583.9" x2="1259.36" y2="780" stroke="#6380b6" stroke-opacity="0.3" stroke-width="1.0" stroke-dasharray="none" clip-path="url(#fd)"/>
<line x1="1587.8" y1="1583.9" x2="1259.36" y2="780" stroke="#6380b6" stroke-opacity="0.85" stroke-width="1.15" stroke-dasharray="6.6 6.1" clip-path="url(#fd)"/>
<g opacity="0.2" clip-path="url(#fd)"><polygon points="983.3,1045 1489.8,1582.7 1599.8,1582.7" fill="#d29c34" stroke="#d29c34" stroke-width="4" stroke-linejoin="round"/></g>
<line x1="983.3" y1="1045" x2="1489.8" y2="1582.7" stroke="#d29c34" stroke-opacity="0.3" stroke-width="1.0" stroke-dasharray="none" clip-path="url(#fd)"/>
<line x1="983.3" y1="1045" x2="1489.8" y2="1582.7" stroke="#d29c34" stroke-opacity="0.85" stroke-width="1.15" stroke-dasharray="6.6 6.1" clip-path="url(#fd)"/>
<line x1="1489.8" y1="1582.7" x2="1599.8" y2="1582.7" stroke="#d29c34" stroke-opacity="0.3" stroke-width="1.0" stroke-dasharray="none" clip-path="url(#fd)"/>
<line x1="1489.8" y1="1582.7" x2="1599.8" y2="1582.7" stroke="#d29c34" stroke-opacity="0.85" stroke-width="1.15" stroke-dasharray="6.6 6.1" clip-path="url(#fd)"/>
<line x1="1599.8" y1="1582.7" x2="983.3" y2="1045" stroke="#d29c34" stroke-opacity="0.3" stroke-width="1.0" stroke-dasharray="none" clip-path="url(#fd)"/>
<line x1="1599.8" y1="1582.7" x2="983.3" y2="1045" stroke="#d29c34" stroke-opacity="0.85" stroke-width="1.15" stroke-dasharray="6.6 6.1" clip-path="url(#fd)"/>
<g opacity="0.2" clip-path="url(#fd)"><polygon points="985,1207.2 1308.5,1567 1381.6,1579.7" fill="#d29c34" stroke="#d29c34" stroke-width="4" stroke-linejoin="round"/></g>
<line x1="985" y1="1207.2" x2="1308.5" y2="1567" stroke="#d29c34" stroke-opacity="0.3" stroke-width="1.0" stroke-dasharray="none" clip-path="url(#fd)"/>
<line x1="985" y1="1207.2" x2="1308.5" y2="1567" stroke="#d29c34" stroke-opacity="0.85" stroke-width="1.15" stroke-dasharray="6.6 6.1" clip-path="url(#fd)"/>
<line x1="1308.5" y1="1567" x2="1381.6" y2="1579.7" stroke="#d29c34" stroke-opacity="0.3" stroke-width="1.0" stroke-dasharray="none" clip-path="url(#fd)"/>
<line x1="1308.5" y1="1567" x2="1381.6" y2="1579.7" stroke="#d29c34" stroke-opacity="0.85" stroke-width="1.15" stroke-dasharray="6.6 6.1" clip-path="url(#fd)"/>
<line x1="1381.6" y1="1579.7" x2="985" y2="1207.2" stroke="#d29c34" stroke-opacity="0.3" stroke-width="1.0" stroke-dasharray="none" clip-path="url(#fd)"/>
<line x1="1381.6" y1="1579.7" x2="985" y2="1207.2" stroke="#d29c34" stroke-opacity="0.85" stroke-width="1.15" stroke-dasharray="6.6 6.1" clip-path="url(#fd)"/>
<line x1="1077.6" y1="1249" x2="1208.7" y2="1323.57" stroke="#6380b6" stroke-width="1.1"/>
<polygon points="1220,1330 1204.74,1326.5 1209.19,1318.67" fill="#6380b6"/>
<line x1="1077.6" y1="1249" x2="1129.23" y2="1353.35" stroke="#d29c34" stroke-width="1.1"/>
<polygon points="1135,1365 1124.31,1353.55 1132.38,1349.56" fill="#d29c34"/>
<line x1="1277" y1="1193" x2="1394.25" y2="1272.69" stroke="#6380b6" stroke-width="1.1"/>
<polygon points="1405,1280 1390.06,1275.29 1395.12,1267.85" fill="#6380b6"/>
<line x1="1277" y1="1193" x2="1248.57" y2="1292.5" stroke="#d29c34" stroke-width="1.1"/>
<polygon points="1245,1305 1244.79,1289.34 1253.45,1291.81" fill="#d29c34"/>
<text x="1035" y="909" font-size="39.5" text-anchor="start" transform="matrix(1,0,0,1.0,0,-0)">(d)</text>
<text x="1595.7" y="908.5" font-size="39.3" text-anchor="middle" transform="matrix(1,0,0,1.0,0,-0)"><tspan font-style="italic">L</tspan>/<tspan font-style="italic">D</tspan> = 0.08</text>
<text x="1595.7" y="946.3" font-size="39.3" text-anchor="middle" transform="matrix(1,0,0,1.0,0,-0)"><tspan font-style="italic">q</tspan> = 0.4</text>
<text x="1277.5" y="1189" font-size="33" text-anchor="middle" transform="matrix(1,0,0,1.05,0,-59.45)">I<tspan baseline-shift="-1.7">&#x2212;</tspan>N<tspan baseline-shift="-1.7">&#x2212;</tspan>C</text>
<text x="1023.7" y="1239.4" font-size="33" text-anchor="start" transform="matrix(1,0,0,1.05,0,-61.97)">I<tspan font-size="23.5" dy="6.2">1</tspan><tspan dy="-6.2"><tspan baseline-shift="-1.7">&#x2212;</tspan>I</tspan><tspan font-size="23.5" dy="6.2">2</tspan><tspan dy="-6.2"><tspan baseline-shift="-1.7">&#x2212;</tspan>N</tspan></text>
<text x="1127" y="1520.6" font-size="33" text-anchor="start" transform="matrix(1,0,0,1.05,0,-76.03)">I<tspan font-size="23.5" dy="6.2">1</tspan><tspan dy="-6.2"><tspan baseline-shift="-1.7">&#x2212;</tspan>I</tspan><tspan font-size="23.5" dy="6.2">2</tspan></text>
<text x="1037" y="1545.5" font-size="33" text-anchor="start" transform="matrix(1,0,0,1.05,0,-77.28)">I</text>
<text x="1390" y="1546" font-size="33" text-anchor="middle" transform="matrix(1,0,0,1.05,0,-77.3)">I<tspan baseline-shift="-1.7">&#x2212;</tspan>N</text>
<text x="1631" y="1546" font-size="33" text-anchor="middle" transform="matrix(1,0,0,1.05,0,-77.3)">I<tspan baseline-shift="-1.7">&#x2212;</tspan>C</text>
<text transform="translate(909.8,1510.4) rotate(-90) scale(1,1.05)" font-size="32.7">Polymer system relative concentration</text>
<text transform="translate(909.8,947.8) rotate(-90) scale(1.26,1.05)" font-size="32.7" font-style="italic">&#x3D5;</text>
<text x="875" y="1669.7" font-size="33" text-anchor="middle" transform="matrix(1,0,0,1.05,0,-83.49)">Colloid volume fraction <tspan font-style="italic">&#x3B7;</tspan></text>
<path d="M162.5,760.5L162.5,755.5M162.5,12.5L162.5,17.5M203.5,760.5L203.5,755.5M203.5,12.5L203.5,17.5M245.5,760.5L245.5,755.5M245.5,12.5L245.5,17.5M286.5,760.5L286.5,751.5M286.5,12.5L286.5,21.5M328.5,760.5L328.5,755.5M328.5,12.5L328.5,17.5M369.5,760.5L369.5,755.5M369.5,12.5L369.5,17.5M411.5,760.5L411.5,755.5M411.5,12.5L411.5,17.5M453.5,760.5L453.5,751.5M453.5,12.5L453.5,21.5M494.5,760.5L494.5,755.5M494.5,12.5L494.5,17.5M536.5,760.5L536.5,755.5M536.5,12.5L536.5,17.5M577.5,760.5L577.5,755.5M577.5,12.5L577.5,17.5M619.5,760.5L619.5,751.5M619.5,12.5L619.5,21.5M660.5,760.5L660.5,755.5M660.5,12.5L660.5,17.5M702.5,760.5L702.5,755.5M702.5,12.5L702.5,17.5M743.5,760.5L743.5,755.5M743.5,12.5L743.5,17.5M785.5,760.5L785.5,751.5M785.5,12.5L785.5,21.5M826.5,760.5L826.5,755.5M826.5,12.5L826.5,17.5M120.5,730.5L125.5,730.5M868.5,730.5L863.5,730.5M120.5,700.5L125.5,700.5M868.5,700.5L863.5,700.5M120.5,670.5L125.5,670.5M868.5,670.5L863.5,670.5M120.5,640.5L125.5,640.5M868.5,640.5L863.5,640.5M120.5,610.5L129.5,610.5M868.5,610.5L859.5,610.5M120.5,580.5L125.5,580.5M868.5,580.5L863.5,580.5M120.5,550.5L125.5,550.5M868.5,550.5L863.5,550.5M120.5,520.5L125.5,520.5M868.5,520.5L863.5,520.5M120.5,490.5L125.5,490.5M868.5,490.5L863.5,490.5M120.5,461.5L129.5,461.5M868.5,461.5L859.5,461.5M120.5,431.5L125.5,431.5M868.5,431.5L863.5,431.5M120.5,401.5L125.5,401.5M868.5,401.5L863.5,401.5M120.5,371.5L125.5,371.5M868.5,371.5L863.5,371.5M120.5,341.5L125.5,341.5M868.5,341.5L863.5,341.5M120.5,311.5L129.5,311.5M868.5,311.5L859.5,311.5M120.5,281.5L125.5,281.5M868.5,281.5L863.5,281.5M120.5,251.5L125.5,251.5M868.5,251.5L863.5,251.5M120.5,221.5L125.5,221.5M868.5,221.5L863.5,221.5M120.5,191.5L125.5,191.5M868.5,191.5L863.5,191.5M120.5,161.5L129.5,161.5M868.5,161.5L859.5,161.5M120.5,131.5L125.5,131.5M868.5,131.5L863.5,131.5M120.5,102.5L125.5,102.5M868.5,102.5L863.5,102.5M120.5,72.5L125.5,72.5M868.5,72.5L863.5,72.5M120.5,42.5L125.5,42.5M868.5,42.5L863.5,42.5" stroke="#666666" stroke-width="1" fill="none"/>
<path d="M1043.5,760.5L1043.5,755.5M1043.5,12.5L1043.5,17.5M1084.5,760.5L1084.5,755.5M1084.5,12.5L1084.5,17.5M1126.5,760.5L1126.5,755.5M1126.5,12.5L1126.5,17.5M1167.5,760.5L1167.5,751.5M1167.5,12.5L1167.5,21.5M1209.5,760.5L1209.5,755.5M1209.5,12.5L1209.5,17.5M1250.5,760.5L1250.5,755.5M1250.5,12.5L1250.5,17.5M1292.5,760.5L1292.5,755.5M1292.5,12.5L1292.5,17.5M1333.5,760.5L1333.5,751.5M1333.5,12.5L1333.5,21.5M1375.5,760.5L1375.5,755.5M1375.5,12.5L1375.5,17.5M1416.5,760.5L1416.5,755.5M1416.5,12.5L1416.5,17.5M1458.5,760.5L1458.5,755.5M1458.5,12.5L1458.5,17.5M1499.5,760.5L1499.5,751.5M1499.5,12.5L1499.5,21.5M1541.5,760.5L1541.5,755.5M1541.5,12.5L1541.5,17.5M1582.5,760.5L1582.5,755.5M1582.5,12.5L1582.5,17.5M1624.5,760.5L1624.5,755.5M1624.5,12.5L1624.5,17.5M1665.5,760.5L1665.5,751.5M1665.5,12.5L1665.5,21.5M1707.5,760.5L1707.5,755.5M1707.5,12.5L1707.5,17.5M1001.5,730.5L1006.5,730.5M1748.5,730.5L1743.5,730.5M1001.5,700.5L1006.5,700.5M1748.5,700.5L1743.5,700.5M1001.5,670.5L1006.5,670.5M1748.5,670.5L1743.5,670.5M1001.5,640.5L1006.5,640.5M1748.5,640.5L1743.5,640.5M1001.5,610.5L1010.5,610.5M1748.5,610.5L1739.5,610.5M1001.5,580.5L1006.5,580.5M1748.5,580.5L1743.5,580.5M1001.5,550.5L1006.5,550.5M1748.5,550.5L1743.5,550.5M1001.5,520.5L1006.5,520.5M1748.5,520.5L1743.5,520.5M1001.5,490.5L1006.5,490.5M1748.5,490.5L1743.5,490.5M1001.5,461.5L1010.5,461.5M1748.5,461.5L1739.5,461.5M1001.5,431.5L1006.5,431.5M1748.5,431.5L1743.5,431.5M1001.5,401.5L1006.5,401.5M1748.5,401.5L1743.5,401.5M1001.5,371.5L1006.5,371.5M1748.5,371.5L1743.5,371.5M1001.5,341.5L1006.5,341.5M1748.5,341.5L1743.5,341.5M1001.5,311.5L1010.5,311.5M1748.5,311.5L1739.5,311.5M1001.5,281.5L1006.5,281.5M1748.5,281.5L1743.5,281.5M1001.5,251.5L1006.5,251.5M1748.5,251.5L1743.5,251.5M1001.5,221.5L1006.5,221.5M1748.5,221.5L1743.5,221.5M1001.5,191.5L1006.5,191.5M1748.5,191.5L1743.5,191.5M1001.5,161.5L1010.5,161.5M1748.5,161.5L1739.5,161.5M1001.5,131.5L1006.5,131.5M1748.5,131.5L1743.5,131.5M1001.5,102.5L1006.5,102.5M1748.5,102.5L1743.5,102.5M1001.5,72.5L1006.5,72.5M1748.5,72.5L1743.5,72.5M1001.5,42.5L1006.5,42.5M1748.5,42.5L1743.5,42.5" stroke="#666666" stroke-width="1" fill="none"/>
<path d="M125.5,1594.5L125.5,1589.5M125.5,828.5L125.5,833.5M149.5,1594.5L149.5,1589.5M149.5,828.5L149.5,833.5M173.5,1594.5L173.5,1589.5M173.5,828.5L173.5,833.5M196.5,1594.5L196.5,1589.5M196.5,828.5L196.5,833.5M220.5,1594.5L220.5,1585.5M220.5,828.5L220.5,837.5M243.5,1594.5L243.5,1589.5M243.5,828.5L243.5,833.5M267.5,1594.5L267.5,1589.5M267.5,828.5L267.5,833.5M290.5,1594.5L290.5,1589.5M290.5,828.5L290.5,833.5M314.5,1594.5L314.5,1589.5M314.5,828.5L314.5,833.5M338.5,1594.5L338.5,1585.5M338.5,828.5L338.5,837.5M361.5,1594.5L361.5,1589.5M361.5,828.5L361.5,833.5M385.5,1594.5L385.5,1589.5M385.5,828.5L385.5,833.5M408.5,1594.5L408.5,1589.5M408.5,828.5L408.5,833.5M432.5,1594.5L432.5,1589.5M432.5,828.5L432.5,833.5M455.5,1594.5L455.5,1585.5M455.5,828.5L455.5,837.5M479.5,1594.5L479.5,1589.5M479.5,828.5L479.5,833.5M502.5,1594.5L502.5,1589.5M502.5,828.5L502.5,833.5M526.5,1594.5L526.5,1589.5M526.5,828.5L526.5,833.5M550.5,1594.5L550.5,1589.5M550.5,828.5L550.5,833.5M573.5,1594.5L573.5,1585.5M573.5,828.5L573.5,837.5M597.5,1594.5L597.5,1589.5M597.5,828.5L597.5,833.5M620.5,1594.5L620.5,1589.5M620.5,828.5L620.5,833.5M644.5,1594.5L644.5,1589.5M644.5,828.5L644.5,833.5M667.5,1594.5L667.5,1589.5M667.5,828.5L667.5,833.5M691.5,1594.5L691.5,1585.5M691.5,828.5L691.5,837.5M714.5,1594.5L714.5,1589.5M714.5,828.5L714.5,833.5M738.5,1594.5L738.5,1589.5M738.5,828.5L738.5,833.5M762.5,1594.5L762.5,1589.5M762.5,828.5L762.5,833.5M785.5,1594.5L785.5,1589.5M785.5,828.5L785.5,833.5M809.5,1594.5L809.5,1585.5M809.5,828.5L809.5,837.5M832.5,1594.5L832.5,1589.5M832.5,828.5L832.5,833.5M102.5,1556.5L107.5,1556.5M868.5,1556.5L863.5,1556.5M102.5,1517.5L107.5,1517.5M868.5,1517.5L863.5,1517.5M102.5,1479.5L107.5,1479.5M868.5,1479.5L863.5,1479.5M102.5,1441.5L107.5,1441.5M868.5,1441.5L863.5,1441.5M102.5,1403.5L111.5,1403.5M868.5,1403.5L859.5,1403.5M102.5,1364.5L107.5,1364.5M868.5,1364.5L863.5,1364.5M102.5,1326.5L107.5,1326.5M868.5,1326.5L863.5,1326.5M102.5,1288.5L107.5,1288.5M868.5,1288.5L863.5,1288.5M102.5,1249.5L107.5,1249.5M868.5,1249.5L863.5,1249.5M102.5,1211.5L111.5,1211.5M868.5,1211.5L859.5,1211.5M102.5,1173.5L107.5,1173.5M868.5,1173.5L863.5,1173.5M102.5,1134.5L107.5,1134.5M868.5,1134.5L863.5,1134.5M102.5,1096.5L107.5,1096.5M868.5,1096.5L863.5,1096.5M102.5,1058.5L107.5,1058.5M868.5,1058.5L863.5,1058.5M102.5,1019.5L111.5,1019.5M868.5,1019.5L859.5,1019.5M102.5,981.5L107.5,981.5M868.5,981.5L863.5,981.5M102.5,943.5L107.5,943.5M868.5,943.5L863.5,943.5M102.5,904.5L107.5,904.5M868.5,904.5L863.5,904.5M102.5,866.5L107.5,866.5M868.5,866.5L863.5,866.5" stroke="#666666" stroke-width="1" fill="none"/>
<path d="M1006.5,1585.5L1006.5,1580.5M1006.5,819.5L1006.5,824.5M1030.5,1585.5L1030.5,1580.5M1030.5,819.5L1030.5,824.5M1053.5,1585.5L1053.5,1580.5M1053.5,819.5L1053.5,824.5M1077.5,1585.5L1077.5,1580.5M1077.5,819.5L1077.5,824.5M1101.5,1585.5L1101.5,1576.5M1101.5,819.5L1101.5,828.5M1124.5,1585.5L1124.5,1580.5M1124.5,819.5L1124.5,824.5M1148.5,1585.5L1148.5,1580.5M1148.5,819.5L1148.5,824.5M1171.5,1585.5L1171.5,1580.5M1171.5,819.5L1171.5,824.5M1195.5,1585.5L1195.5,1580.5M1195.5,819.5L1195.5,824.5M1218.5,1585.5L1218.5,1576.5M1218.5,819.5L1218.5,828.5M1242.5,1585.5L1242.5,1580.5M1242.5,819.5L1242.5,824.5M1265.5,1585.5L1265.5,1580.5M1265.5,819.5L1265.5,824.5M1289.5,1585.5L1289.5,1580.5M1289.5,819.5L1289.5,824.5M1313.5,1585.5L1313.5,1580.5M1313.5,819.5L1313.5,824.5M1336.5,1585.5L1336.5,1576.5M1336.5,819.5L1336.5,828.5M1360.5,1585.5L1360.5,1580.5M1360.5,819.5L1360.5,824.5M1383.5,1585.5L1383.5,1580.5M1383.5,819.5L1383.5,824.5M1407.5,1585.5L1407.5,1580.5M1407.5,819.5L1407.5,824.5M1430.5,1585.5L1430.5,1580.5M1430.5,819.5L1430.5,824.5M1454.5,1585.5L1454.5,1576.5M1454.5,819.5L1454.5,828.5M1477.5,1585.5L1477.5,1580.5M1477.5,819.5L1477.5,824.5M1501.5,1585.5L1501.5,1580.5M1501.5,819.5L1501.5,824.5M1525.5,1585.5L1525.5,1580.5M1525.5,819.5L1525.5,824.5M1548.5,1585.5L1548.5,1580.5M1548.5,819.5L1548.5,824.5M1572.5,1585.5L1572.5,1576.5M1572.5,819.5L1572.5,828.5M1595.5,1585.5L1595.5,1580.5M1595.5,819.5L1595.5,824.5M1619.5,1585.5L1619.5,1580.5M1619.5,819.5L1619.5,824.5M1642.5,1585.5L1642.5,1580.5M1642.5,819.5L1642.5,824.5M1666.5,1585.5L1666.5,1580.5M1666.5,819.5L1666.5,824.5M1690.5,1585.5L1690.5,1576.5M1690.5,819.5L1690.5,828.5M1713.5,1585.5L1713.5,1580.5M1713.5,819.5L1713.5,824.5M983.5,1559.5L988.5,1559.5M1748.5,1559.5L1743.5,1559.5M983.5,1533.5L988.5,1533.5M1748.5,1533.5L1743.5,1533.5M983.5,1508.5L988.5,1508.5M1748.5,1508.5L1743.5,1508.5M983.5,1482.5L992.5,1482.5M1748.5,1482.5L1739.5,1482.5M983.5,1457.5L988.5,1457.5M1748.5,1457.5L1743.5,1457.5M983.5,1431.5L988.5,1431.5M1748.5,1431.5L1743.5,1431.5M983.5,1406.5L988.5,1406.5M1748.5,1406.5L1743.5,1406.5M983.5,1380.5L992.5,1380.5M1748.5,1380.5L1739.5,1380.5M983.5,1355.5L988.5,1355.5M1748.5,1355.5L1743.5,1355.5M983.5,1329.5L988.5,1329.5M1748.5,1329.5L1743.5,1329.5M983.5,1304.5L988.5,1304.5M1748.5,1304.5L1743.5,1304.5M983.5,1278.5L992.5,1278.5M1748.5,1278.5L1739.5,1278.5M983.5,1253.5L988.5,1253.5M1748.5,1253.5L1743.5,1253.5M983.5,1227.5L988.5,1227.5M1748.5,1227.5L1743.5,1227.5M983.5,1202.5L988.5,1202.5M1748.5,1202.5L1743.5,1202.5M983.5,1176.5L992.5,1176.5M1748.5,1176.5L1739.5,1176.5M983.5,1151.5L988.5,1151.5M1748.5,1151.5L1743.5,1151.5M983.5,1125.5L988.5,1125.5M1748.5,1125.5L1743.5,1125.5M983.5,1100.5L988.5,1100.5M1748.5,1100.5L1743.5,1100.5M983.5,1074.5L992.5,1074.5M1748.5,1074.5L1739.5,1074.5M983.5,1049.5L988.5,1049.5M1748.5,1049.5L1743.5,1049.5M983.5,1023.5L988.5,1023.5M1748.5,1023.5L1743.5,1023.5M983.5,998.5L988.5,998.5M1748.5,998.5L1743.5,998.5M983.5,972.5L992.5,972.5M1748.5,972.5L1739.5,972.5M983.5,947.5L988.5,947.5M1748.5,947.5L1743.5,947.5M983.5,921.5L988.5,921.5M1748.5,921.5L1743.5,921.5M983.5,895.5L988.5,895.5M1748.5,895.5L1743.5,895.5M983.5,870.5L992.5,870.5M1748.5,870.5L1739.5,870.5M983.5,844.5L988.5,844.5M1748.5,844.5L1743.5,844.5" stroke="#666666" stroke-width="1" fill="none"/>
</svg></body></html>
